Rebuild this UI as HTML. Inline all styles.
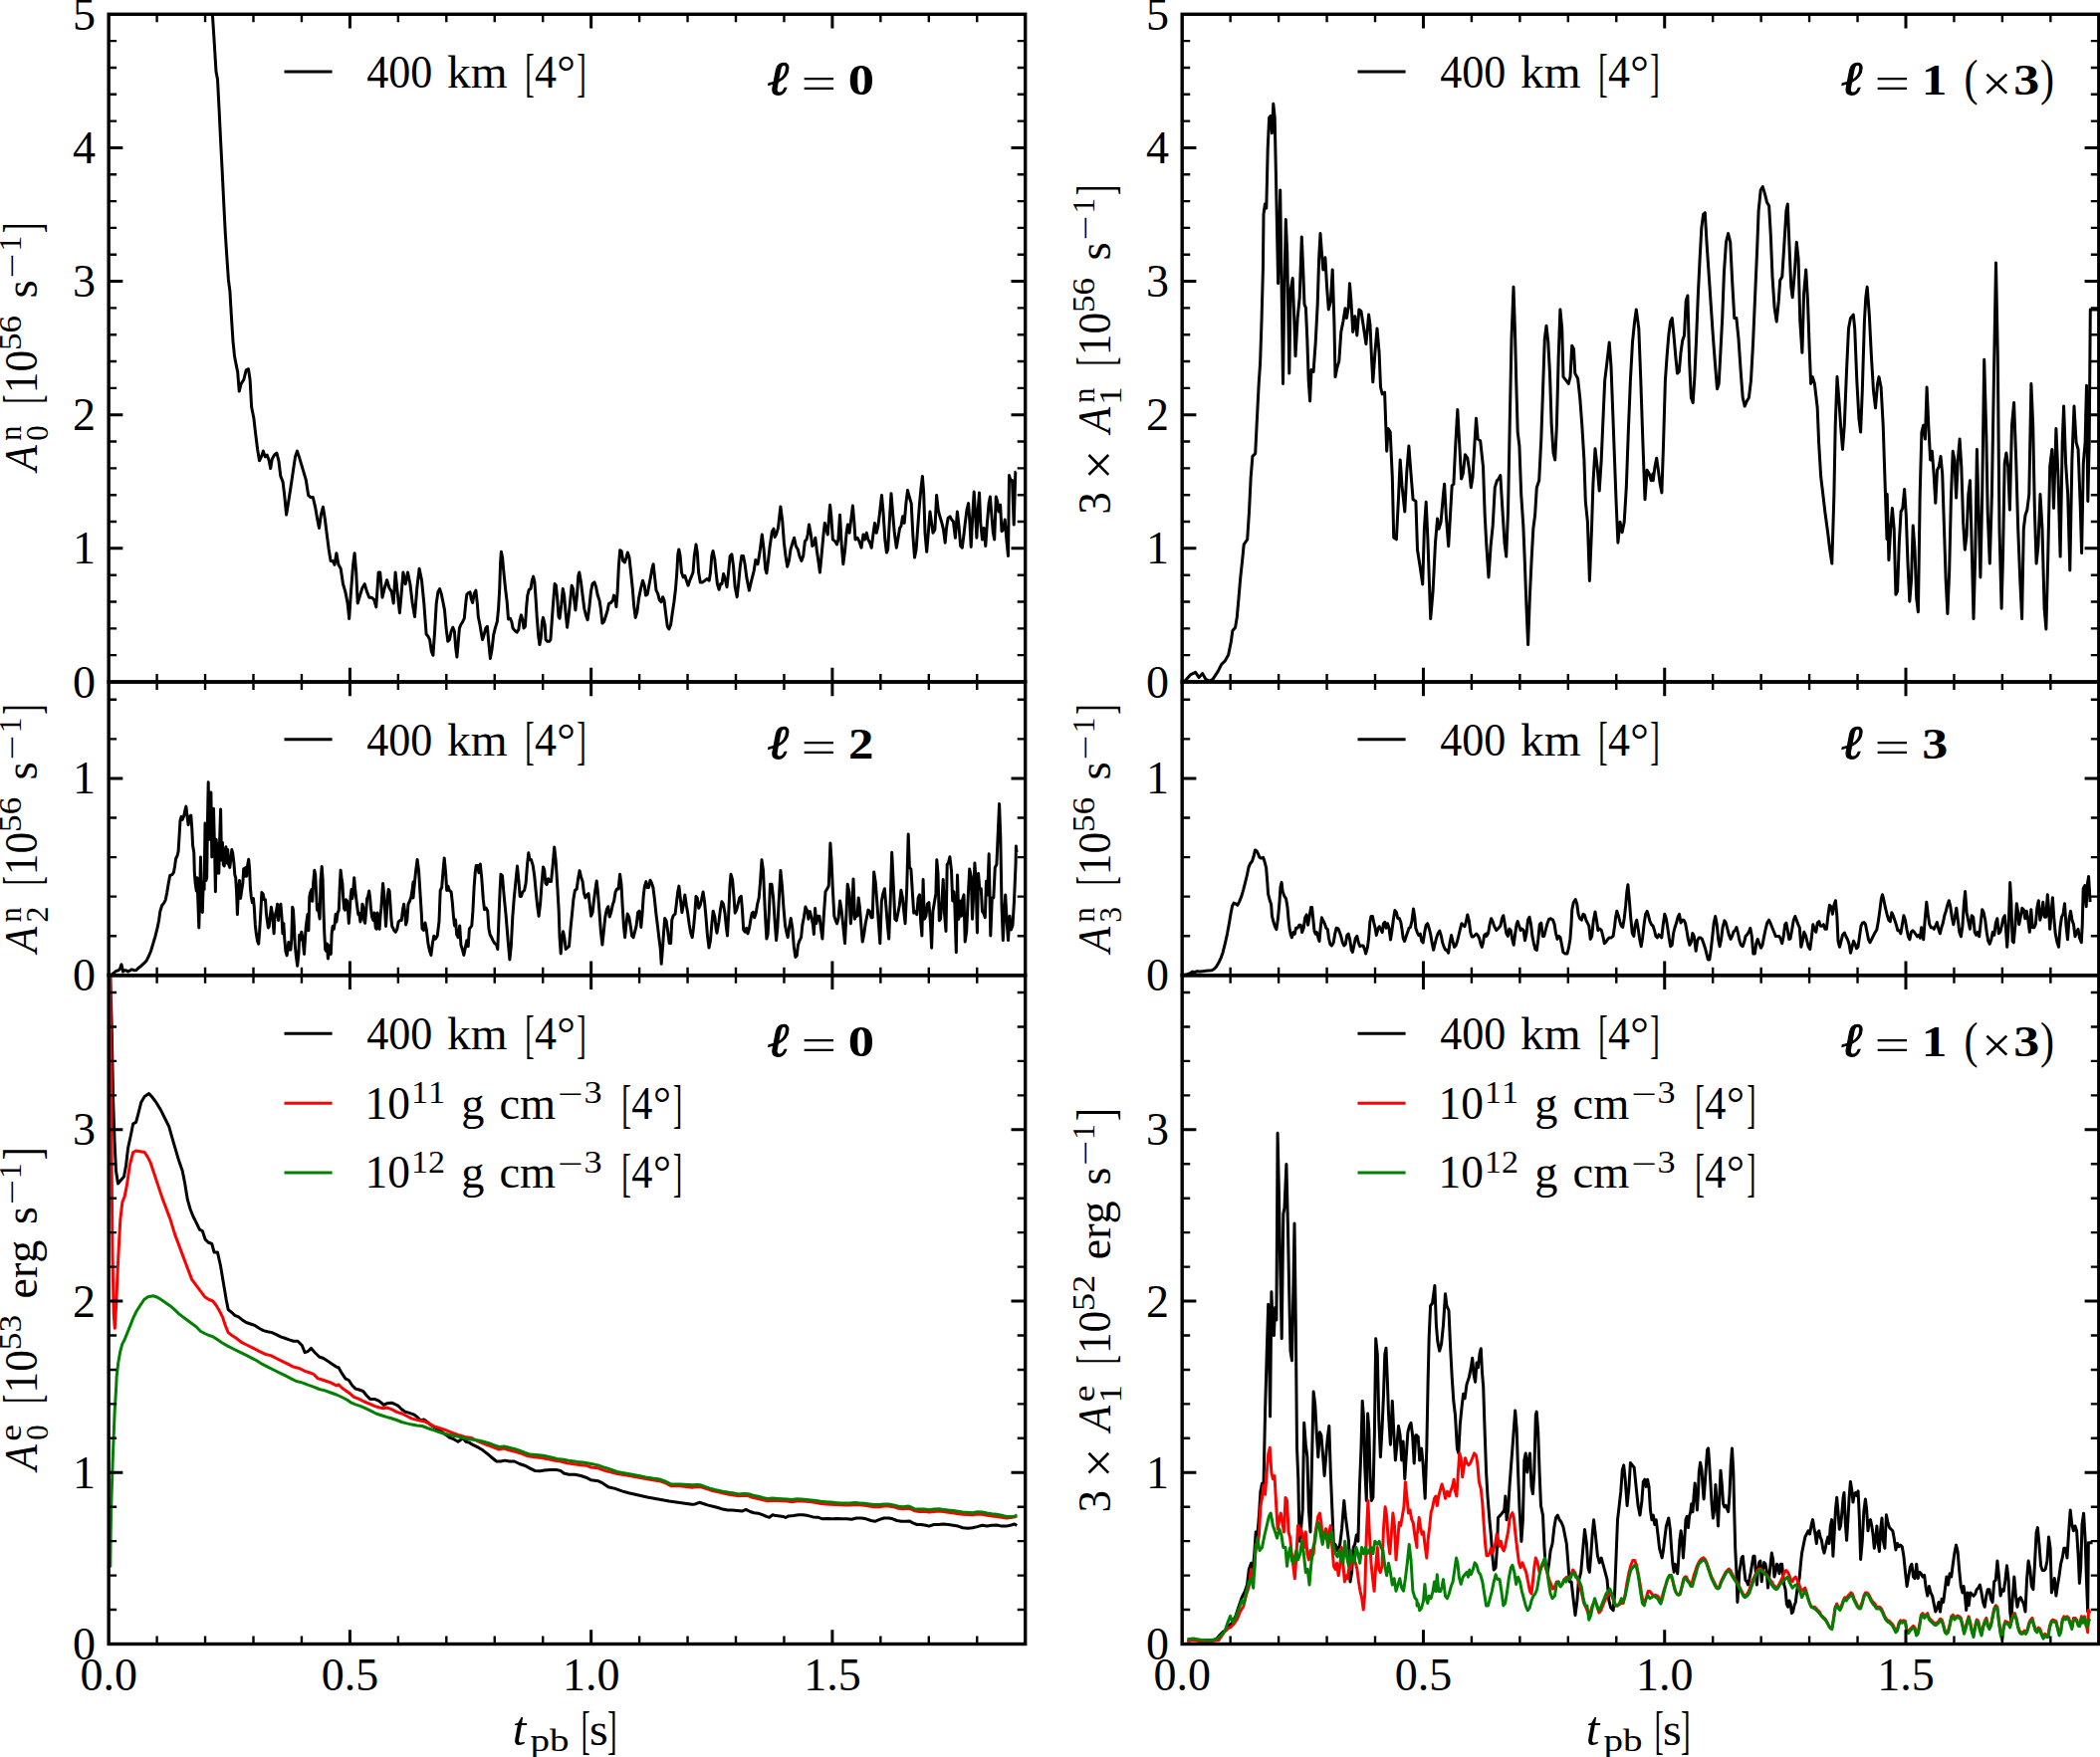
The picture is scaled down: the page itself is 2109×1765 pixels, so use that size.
<!DOCTYPE html>
<html><head><meta charset="utf-8"><style>
html,body{margin:0;padding:0;background:#fff;width:2109px;height:1765px;overflow:hidden}
svg{display:block}
.t{font-family:"Liberation Serif","DejaVu Serif",serif;font-size:46px;fill:#000;font-kerning:none}
</style></head><body>
<svg width="2109" height="1765" viewBox="0 0 2109 1765"><rect width="2109" height="1765" fill="#fff"/><clipPath id="cLT"><rect x="109.15" y="14.30" width="920.55" height="670.70"/></clipPath><polyline clip-path="url(#cLT)" points="213.1,10.0 215.1,41.0 217.0,71.9 218.5,79.7 220.1,110.6 221.6,141.6 223.2,172.6 224.7,203.5 226.3,234.5 227.8,257.7 229.4,280.9 230.9,292.5 232.5,319.6 234.0,342.8 235.6,358.3 237.1,366.1 238.7,373.8 240.2,393.1 242.2,385.4 244.8,381.5 247.2,371.9 249.5,370.7 251.1,381.5 252.6,408.6 254.9,420.2 256.2,431.9 258.6,451.2 260.5,462.8 262.4,458.9 264.4,453.1 266.3,458.9 268.2,457.0 270.2,462.8 271.7,470.6 273.3,460.9 275.6,457.0 277.9,455.1 279.9,462.8 281.8,478.3 284.1,484.1 285.7,497.6 287.6,517.0 289.5,505.4 291.9,489.9 294.2,474.4 296.5,458.9 298.4,453.1 300.4,458.9 302.7,466.7 305.0,474.4 307.3,482.2 309.7,497.6 312.0,499.6 314.3,499.6 316.6,509.3 318.6,520.9 320.5,530.5 322.4,517.0 324.4,509.3 326.3,520.9 328.2,536.4 330.2,551.8 332.1,563.4 334.1,563.4 336.0,567.3 337.9,555.7 339.9,567.3 342.2,571.2 344.5,586.7 346.8,594.4 349.1,606.0 350.7,621.5 352.2,598.3 354.6,567.3 356.1,555.7 357.7,575.0 359.2,606.0 361.5,598.3 363.9,590.5 366.2,586.7 368.5,594.4 370.8,600.2 373.1,600.2 375.5,602.1 377.8,609.9 380.1,575.0 381.7,575.0 384.0,600.2 386.3,590.5 388.6,582.8 390.9,590.5 393.3,594.4 395.2,606.0 397.1,575.0 399.5,598.3 401.4,615.7 403.3,594.4 404.9,575.0 407.2,586.7 409.5,575.0 411.9,586.7 414.2,606.0 416.5,619.6 418.8,590.5 421.1,571.2 423.5,582.8 425.8,606.0 428.1,637.0 430.0,639.3 431.6,642.6 433.3,654.2 434.9,658.3 436.6,634.4 438.2,606.3 439.9,594.8 441.6,591.5 443.2,596.4 444.9,604.7 446.5,612.9 448.1,631.1 449.8,644.3 451.4,642.6 453.1,634.4 454.8,630.2 456.4,634.4 457.7,650.9 458.9,660.0 460.0,647.6 461.4,631.1 462.7,627.8 464.3,625.3 466.3,621.2 467.9,604.7 468.8,597.2 470.4,595.6 472.1,594.8 473.2,601.4 474.6,605.5 476.2,596.4 477.9,593.1 479.5,608.0 480.3,619.5 482.0,627.8 483.1,634.4 484.5,642.6 486.1,637.7 487.8,631.1 489.4,629.4 490.7,644.3 492.4,661.6 494.0,652.5 495.7,637.7 497.3,631.1 499.3,624.5 500.6,611.3 501.8,589.8 502.6,565.0 503.4,554.3 504.6,560.1 505.9,575.0 507.6,591.5 509.2,604.7 510.5,622.0 512.5,621.2 513.8,624.5 515.1,631.1 517.1,633.5 519.1,635.2 520.8,632.7 522.1,622.8 523.4,617.9 524.9,622.8 526.0,631.1 527.4,629.4 528.7,609.6 529.8,598.1 531.3,592.3 533.0,591.5 534.3,583.2 535.6,579.1 536.9,584.9 538.1,601.4 539.2,619.5 540.6,637.7 541.9,647.6 543.2,641.0 544.5,624.5 545.5,620.4 547.2,627.8 548.1,642.6 549.6,644.3 551.6,644.3 552.9,642.6 554.1,626.1 555.4,608.0 557.1,586.5 558.4,588.2 559.7,601.4 561.0,619.5 562.0,621.2 563.7,608.0 565.3,591.5 566.6,598.1 568.0,614.6 569.6,630.2 571.2,617.9 572.9,601.4 574.2,588.2 575.5,591.5 576.9,604.7 577.9,612.9 579.5,598.1 580.8,578.3 581.8,575.0 583.5,584.9 585.1,598.1 586.8,611.3 588.4,617.9 590.1,622.8 591.7,611.3 593.4,594.8 595.0,586.5 597.0,584.9 598.6,589.8 600.3,598.1 602.0,603.0 603.3,611.3 604.9,626.1 606.6,624.5 608.2,619.5 610.2,612.9 611.5,606.3 613.5,605.5 615.5,603.0 616.5,598.1 617.8,601.4 618.9,609.6 620.1,594.8 621.4,568.4 622.7,552.7 624.1,553.5 625.7,563.4 627.4,565.0 629.0,560.1 630.3,555.1 632.0,560.1 633.6,575.0 635.3,591.5 636.6,608.0 638.2,620.4 639.9,614.6 641.5,601.4 643.5,591.5 645.5,583.2 647.2,588.2 648.5,598.1 650.1,597.2 651.8,588.2 653.4,579.9 654.8,571.7 656.1,566.7 657.4,578.3 659.0,593.1 660.7,596.4 662.3,603.0 664.0,604.7 665.6,599.7 667.0,603.0 668.6,616.2 670.3,629.4 671.9,631.9 673.6,627.8 675.2,616.2 676.9,604.7 678.5,591.5 679.8,575.0 680.8,556.8 681.8,551.9 683.1,558.5 684.5,575.0 686.1,579.9 687.8,578.3 689.4,583.2 691.1,588.2 692.7,583.2 694.4,579.1 696.0,575.0 697.3,558.5 699.0,546.9 700.3,555.1 701.6,575.0 703.3,584.9 705.6,584.9 707.9,583.2 709.9,581.6 712.2,583.2 713.5,575.0 714.8,558.5 716.1,553.5 717.8,561.8 719.1,575.0 720.4,586.5 722.1,592.3 723.7,586.5 725.0,586.5 726.6,576.6 728.3,581.6 730.0,589.8 731.6,575.0 733.2,558.5 734.9,556.8 736.5,568.4 738.2,589.8 740.2,599.7 741.5,588.2 743.2,570.0 744.8,558.5 746.5,558.5 748.1,566.7 749.8,579.9 752.4,593.1 754.7,583.2 757.2,573.3 758.8,562.6 761.0,566.7 763.0,555.1 765.3,537.0 767.1,551.9 768.7,571.7 769.9,575.8 771.5,563.4 773.2,548.5 775.4,533.7 777.0,531.2 778.1,539.5 779.5,537.0 781.5,530.4 783.9,508.9 785.8,523.8 787.4,545.2 789.0,558.5 790.7,569.2 792.4,563.4 794.0,551.9 796.0,545.2 797.6,540.3 799.3,548.5 801.3,551.9 802.9,558.5 804.9,563.4 806.7,558.5 808.4,543.6 810.0,542.0 811.2,537.0 812.5,527.1 814.1,535.3 815.8,548.5 817.4,546.9 818.8,540.3 820.4,553.5 822.1,565.0 823.4,575.0 825.0,558.5 827.0,537.0 828.3,525.4 830.0,532.0 831.3,537.0 832.6,518.8 833.6,507.3 834.8,518.8 836.4,542.0 838.6,543.6 840.5,546.9 841.9,542.0 843.5,517.2 845.2,546.9 846.8,566.7 848.5,553.5 850.1,535.3 851.4,527.1 853.1,535.3 854.7,522.1 856.4,508.1 857.9,525.4 859.0,542.0 861.2,540.3 862.8,543.6 865.0,550.2 867.0,537.0 868.6,542.0 870.3,535.3 871.9,542.0 873.6,545.2 875.2,550.2 876.9,537.0 878.5,525.4 880.2,535.3 881.8,528.7 883.5,515.5 885.5,497.4 887.1,515.5 888.8,542.0 890.4,555.1 891.7,551.9 893.4,522.1 895.0,495.7 896.7,517.2 898.3,535.3 900.3,550.2 902.0,540.3 903.6,530.4 904.9,528.7 906.6,518.8 908.2,525.4 909.9,505.6 911.5,492.4 913.2,499.0 915.2,505.6 916.8,537.0 918.5,560.1 920.1,551.9 921.8,528.7 923.4,507.3 925.1,489.1 926.4,478.4 927.7,495.7 929.0,535.3 930.7,554.3 932.3,535.3 934.0,513.9 935.6,525.4 937.0,535.3 938.9,532.0 940.6,497.4 942.2,512.2 943.9,518.8 945.9,525.4 947.5,532.0 949.2,545.2 950.5,530.4 952.1,520.5 954.1,518.8 955.8,522.1 957.4,523.8 959.4,540.3 961.4,513.9 963.0,528.7 964.7,548.5 966.3,550.2 968.0,537.0 969.3,525.4 971.0,512.2 972.6,505.6 973.9,523.8 975.2,549.4 976.9,515.5 978.2,494.1 979.5,515.5 980.9,540.3 982.2,512.2 983.5,494.9 984.8,525.4 986.5,542.0 988.1,530.4 989.8,548.5 991.4,525.4 993.1,505.6 994.4,499.0 995.7,515.5 997.4,535.3 998.7,542.0 1000.3,499.0 1001.7,504.0 1003.0,513.9 1004.6,507.3 1006.0,533.7 1007.6,532.0 1009.2,522.1 1010.9,542.0 1012.5,558.5 1013.5,477.6 1014.9,482.5 1016.5,482.5 1018.2,527.1 1019.8,474.3 1020.5,474.3" fill="none" stroke="#000" stroke-width="3" stroke-linejoin="round" stroke-linecap="butt"/><clipPath id="cRT"><rect x="1187.20" y="14.30" width="920.60" height="670.70"/></clipPath><polyline clip-path="url(#cRT)" points="1188.5,685.8 1195.4,677.9 1200.6,675.4 1204.1,680.6 1207.6,676.5 1211.0,682.4 1214.5,684.1 1218.0,682.4 1223.2,674.4 1226.7,667.4 1230.2,664.0 1233.6,658.1 1236.4,644.2 1237.8,633.8 1240.6,630.3 1242.3,619.9 1244.0,600.8 1245.8,579.9 1247.5,564.3 1249.2,547.0 1252.7,541.8 1254.5,514.0 1256.2,479.3 1257.9,458.4 1260.7,455.6 1262.1,427.2 1264.2,385.5 1265.6,364.7 1267.0,323.0 1268.4,270.9 1269.0,215.4 1270.4,205.0 1271.8,209.2 1273.2,149.4 1274.6,118.2 1276.0,116.5 1277.4,133.8 1278.8,104.3 1280.2,118.2 1281.6,184.2 1283.6,284.8 1285.7,191.1 1287.1,288.3 1288.5,385.5 1289.9,288.3 1291.3,220.6 1292.7,253.6 1294.8,375.1 1296.1,291.8 1298.2,279.6 1299.6,316.1 1301.0,357.8 1303.1,319.6 1305.2,298.7 1307.3,238.0 1308.7,270.9 1310.0,305.7 1311.4,309.1 1312.8,340.4 1314.2,382.1 1315.6,402.9 1317.0,371.6 1319.1,373.4 1321.2,343.9 1323.2,305.7 1324.6,260.5 1326.0,234.5 1327.4,253.6 1328.8,270.9 1330.9,258.8 1332.6,288.3 1334.3,310.9 1336.4,302.2 1338.2,270.9 1339.9,323.0 1341.0,378.6 1342.7,369.9 1344.8,362.9 1346.8,333.4 1348.9,323.0 1351.0,309.8 1352.4,319.6 1354.2,309.1 1355.5,284.8 1356.9,302.2 1358.7,333.4 1360.8,317.8 1362.8,336.9 1364.9,310.9 1367.0,312.6 1369.1,326.5 1371.9,345.6 1374.6,316.1 1376.0,326.5 1377.4,357.8 1378.8,383.8 1380.9,354.3 1383.0,330.0 1385.1,354.3 1386.5,389.0 1388.2,395.9 1390.6,394.2 1392.7,453.2 1394.1,430.6 1396.2,434.1 1398.3,479.3 1399.7,540.0 1402.4,541.8 1404.5,500.1 1406.2,461.9 1408.0,487.9 1410.8,514.0 1412.8,474.1 1414.9,448.0 1417.0,475.8 1419.1,501.8 1421.9,503.6 1423.5,552.2 1426.2,569.5 1428.7,586.9 1430.4,531.3 1432.2,504.3 1433.9,541.8 1436.7,621.6 1439.1,593.8 1441.5,545.2 1443.6,520.9 1445.0,531.3 1447.1,524.4 1449.5,496.6 1450.6,486.2 1452.3,517.5 1454.7,548.7 1456.5,517.5 1458.2,487.9 1459.9,486.2 1461.7,448.0 1463.8,411.6 1465.8,448.0 1467.6,481.0 1469.3,475.8 1471.4,456.7 1473.8,460.2 1475.6,472.3 1477.3,489.7 1479.0,479.3 1480.8,448.0 1482.5,420.2 1484.2,441.1 1486.7,442.8 1489.5,468.8 1491.2,517.5 1492.9,548.7 1495.0,579.9 1497.1,548.7 1499.2,527.9 1501.3,489.7 1503.4,482.7 1505.1,481.0 1506.8,477.5 1508.6,507.0 1511.0,545.2 1512.7,559.1 1514.5,514.0 1516.2,427.2 1518.0,340.4 1520.0,288.3 1521.4,330.0 1522.8,385.5 1524.2,434.1 1525.9,448.0 1527.7,496.6 1529.8,527.9 1531.1,559.1 1532.9,607.7 1534.6,647.6 1536.3,600.8 1538.1,562.6 1539.8,531.3 1541.6,517.5 1543.3,489.7 1545.7,482.7 1547.8,441.1 1549.5,392.5 1551.3,340.4 1553.0,327.2 1554.8,343.9 1556.5,375.1 1558.2,427.2 1560.0,455.0 1561.7,461.9 1563.4,427.2 1565.2,357.8 1566.9,310.9 1568.7,330.0 1570.0,378.6 1572.8,382.1 1575.2,385.5 1577.0,378.6 1578.7,347.3 1580.5,350.8 1581.8,375.1 1584.6,380.3 1586.7,399.4 1588.8,427.2 1590.9,461.9 1592.3,503.6 1594.4,524.4 1596.4,583.4 1598.5,531.3 1599.9,486.2 1602.0,450.8 1604.1,468.8 1606.2,493.1 1608.2,461.9 1610.3,413.3 1611.7,382.1 1613.8,364.7 1616.2,343.9 1618.0,368.2 1619.7,413.3 1621.5,461.9 1623.2,507.0 1624.9,545.2 1627.0,524.4 1629.1,534.8 1631.2,524.4 1633.3,489.7 1635.3,434.1 1637.4,382.1 1639.5,343.9 1641.6,323.0 1643.3,310.9 1645.8,330.0 1647.8,382.1 1649.9,444.5 1652.0,501.8 1654.1,472.3 1656.2,475.8 1658.3,482.7 1660.0,475.8 1660.2,482.7 1662.0,468.8 1663.7,460.2 1665.4,472.3 1667.2,486.2 1668.9,494.9 1670.6,444.5 1672.4,382.1 1674.1,357.8 1675.8,336.9 1677.6,323.0 1679.3,319.6 1681.0,336.9 1682.8,357.8 1684.5,375.1 1686.3,373.4 1688.0,354.3 1689.7,342.1 1691.5,336.9 1693.2,302.2 1694.9,297.0 1696.7,364.7 1698.4,399.4 1700.2,404.6 1701.9,378.6 1703.6,340.4 1705.4,295.2 1707.1,260.5 1708.8,229.3 1710.6,215.4 1712.3,213.7 1714.0,243.2 1716.1,274.4 1718.2,305.7 1720.3,336.9 1722.4,364.7 1724.5,390.7 1726.2,385.5 1727.9,354.3 1729.7,319.6 1731.4,274.4 1733.5,243.2 1735.6,234.5 1737.7,243.2 1739.8,284.8 1741.8,319.6 1743.9,319.6 1746.0,340.4 1748.1,371.6 1750.2,399.4 1752.2,408.1 1754.3,402.9 1756.4,399.4 1758.5,382.1 1760.6,343.9 1762.7,295.2 1764.8,246.7 1766.1,211.9 1768.2,191.1 1770.3,187.6 1772.4,194.6 1774.5,203.2 1776.6,206.7 1778.3,236.2 1780.0,277.9 1782.1,309.1 1784.2,323.0 1786.3,302.2 1787.7,281.4 1789.8,277.9 1791.8,246.7 1793.9,211.9 1795.3,205.0 1796.7,239.7 1798.8,288.3 1800.2,298.7 1802.3,274.4 1804.3,243.2 1806.1,260.5 1807.8,323.0 1809.9,354.3 1811.6,295.2 1813.7,270.9 1815.5,302.2 1817.2,350.8 1818.6,385.5 1820.3,378.6 1822.4,385.5 1825.2,409.8 1826.6,444.5 1828.7,479.3 1830.8,496.6 1832.8,514.0 1835.6,534.8 1837.7,552.2 1839.8,566.1 1841.9,496.6 1843.2,427.2 1845.0,378.6 1846.7,399.4 1848.8,430.6 1850.5,451.5 1852.3,427.2 1854.4,375.1 1856.5,330.0 1858.5,319.6 1861.3,316.1 1862.7,330.0 1864.8,382.1 1866.9,420.2 1868.6,434.1 1870.3,392.5 1872.4,323.0 1873.8,298.7 1875.2,288.3 1877.3,316.1 1879.4,357.8 1881.5,392.5 1883.5,409.8 1885.6,385.5 1887.0,378.6 1889.1,389.0 1891.2,427.2 1892.9,479.3 1895.0,541.8 1895.2,496.6 1896.9,562.6 1898.7,531.3 1900.4,510.5 1902.2,531.3 1903.9,597.3 1905.6,593.8 1907.3,545.2 1909.1,514.0 1910.8,510.5 1912.6,491.4 1914.3,517.5 1916.0,566.1 1917.8,604.2 1919.5,583.4 1921.2,527.9 1923.0,552.2 1924.7,600.8 1926.4,614.7 1928.2,496.6 1929.9,434.1 1931.7,427.2 1933.4,441.1 1935.1,389.0 1936.8,427.2 1938.6,461.9 1940.3,453.2 1942.1,475.8 1943.8,505.3 1945.5,472.3 1947.3,468.8 1949.0,458.4 1950.7,475.8 1952.5,531.3 1954.2,583.4 1955.9,616.4 1957.7,573.0 1959.4,500.1 1961.2,453.2 1962.9,461.9 1964.6,500.1 1966.3,461.9 1968.1,441.1 1969.8,468.8 1971.6,524.4 1973.3,552.2 1975.0,538.3 1976.8,496.6 1978.5,482.7 1980.2,548.7 1982.0,621.6 1983.7,559.1 1985.4,451.5 1987.2,517.5 1988.9,579.9 1990.7,496.6 1992.7,361.2 1994.8,437.6 1996.2,514.0 1998.3,566.1 2000.4,496.6 2002.8,357.8 2004.5,264.0 2006.3,357.8 2008.0,531.3 2010.1,611.2 2011.5,559.1 2013.2,465.4 2014.9,455.0 2016.7,468.8 2018.4,512.2 2020.5,427.2 2022.6,404.6 2024.7,461.9 2026.7,531.3 2028.8,583.4 2030.6,621.6 2032.3,531.3 2034.0,517.5 2035.8,512.2 2037.8,496.6 2039.9,385.5 2041.7,427.2 2043.4,514.0 2045.1,566.1 2046.9,548.7 2049.0,496.6 2051.0,531.3 2053.1,611.2 2054.9,632.0 2056.6,566.1 2058.7,468.8 2060.8,451.5 2062.5,510.5 2064.9,430.6 2067.0,479.3 2069.1,559.1 2071.2,444.5 2072.6,408.1 2074.6,465.4 2076.7,496.6 2078.8,573.0 2080.9,461.9 2083.0,408.1 2085.1,444.5 2087.1,451.5 2089.2,507.0 2090.6,555.6 2092.3,465.4 2094.1,444.5 2095.5,387.3 2096.8,503.6 2098.2,444.5 2099.3,310.9 2106.9,310.9" fill="none" stroke="#000" stroke-width="3" stroke-linejoin="round" stroke-linecap="butt"/><clipPath id="cLM"><rect x="109.15" y="685.00" width="920.55" height="294.80"/></clipPath><polyline clip-path="url(#cLM)" points="110.9,979.8 113.9,977.6 116.8,975.4 119.0,974.7 120.5,973.2 122.0,968.8 123.5,976.1 124.9,974.7 126.4,974.7 128.6,976.1 130.8,974.7 132.3,973.9 134.5,974.7 136.7,974.7 138.9,972.5 141.9,970.2 144.9,967.3 147.1,965.1 149.3,960.6 151.5,955.5 153.7,948.1 155.9,940.7 158.1,931.9 159.6,924.5 160.8,915.6 162.6,909.7 164.8,906.8 166.3,903.8 167.7,896.5 169.2,887.6 170.7,879.5 172.9,878.7 174.4,876.5 175.6,869.9 176.6,862.5 178.1,859.5 179.1,855.1 180.3,835.9 181.0,824.1 182.1,820.4 183.2,823.4 184.7,819.7 185.9,813.8 186.9,810.1 188.0,819.7 189.1,828.5 190.3,820.4 191.8,819.0 192.8,833.0 193.6,849.2 194.8,856.6 195.3,875.8 196.2,887.6 197.3,895.0 198.0,881.7 198.9,906.8 199.8,931.9 200.7,899.4 201.5,861.0 202.4,900.9 203.3,916.4 204.2,886.1 205.1,893.5 206.0,827.1 206.9,884.6 207.7,881.7 208.3,834.5 209.2,785.8 210.1,843.3 211.0,822.6 211.9,796.1 212.8,861.0 213.7,840.4 214.5,812.3 215.7,859.5 216.4,895.7 217.2,843.3 218.1,877.3 219.0,847.7 219.8,877.3 220.7,841.8 221.6,813.1 222.5,864.0 223.4,846.3 224.3,868.4 225.2,869.9 226.1,856.6 226.9,850.7 227.8,866.9 228.7,853.6 229.7,868.4 230.8,871.4 231.9,862.5 232.8,853.6 233.7,856.6 234.9,866.9 235.8,878.7 236.7,881.7 237.6,896.5 238.4,918.6 239.3,896.5 240.5,884.6 241.6,902.4 242.6,895.0 243.8,887.6 244.7,872.8 245.5,880.2 246.7,871.4 247.6,880.2 248.5,869.9 249.7,863.2 250.6,872.8 251.4,892.0 252.3,900.9 253.4,906.8 254.4,902.4 255.3,911.2 256.3,928.9 257.3,937.8 258.5,945.1 259.7,948.1 260.7,934.8 261.8,917.1 262.9,896.5 264.1,897.9 265.3,903.8 266.5,903.8 267.4,917.1 268.3,924.5 269.4,931.9 270.3,930.4 271.5,918.6 272.4,911.2 273.3,917.1 274.2,926.0 275.1,937.8 275.9,923.0 276.8,917.1 277.7,914.2 278.6,908.2 279.5,924.5 280.7,912.7 281.9,908.2 283.0,921.5 283.9,937.8 284.8,927.4 285.8,943.7 286.9,955.5 288.1,959.9 288.9,954.0 289.8,946.6 290.7,954.0 291.9,954.0 292.8,943.7 293.7,911.2 294.5,914.2 295.4,930.4 296.3,949.6 297.5,961.4 298.7,970.2 299.9,958.4 300.7,939.2 301.9,943.7 302.8,936.3 303.7,940.7 304.6,949.6 305.5,958.4 306.4,943.7 307.2,931.9 308.1,924.5 309.0,918.6 309.9,934.8 310.8,900.9 311.7,896.5 312.9,893.5 313.7,905.3 314.6,887.6 315.8,874.3 316.7,878.7 317.6,896.5 318.5,914.2 319.3,908.2 320.2,917.1 321.1,923.0 322.0,884.6 323.2,870.6 324.1,883.2 324.9,912.7 325.8,937.8 326.7,954.0 327.6,955.5 328.5,948.1 329.4,962.9 330.3,957.0 331.4,949.6 332.3,958.4 333.2,937.8 334.1,930.4 335.3,933.3 336.2,927.4 337.1,918.6 337.9,926.0 339.1,917.1 340.3,914.2 341.2,892.0 342.1,874.3 343.0,881.7 343.9,887.6 344.7,902.4 345.6,912.7 346.5,914.2 347.4,903.8 348.6,905.3 349.5,914.2 350.3,927.4 351.2,915.6 352.1,900.9 353.0,893.5 353.9,902.4 354.8,893.5 355.7,881.7 356.5,892.0 357.7,902.4 358.6,909.7 359.8,918.6 360.7,917.1 361.9,926.0 363.0,921.5 363.9,908.2 364.8,911.2 365.7,924.5 366.6,927.4 367.8,914.2 368.6,902.4 369.5,900.9 370.7,895.0 371.6,902.4 372.5,912.7 373.7,921.5 374.9,924.5 376.0,917.1 377.2,931.9 378.1,933.3 379.0,917.1 380.2,924.5 381.1,933.3 381.9,921.5 382.8,912.7 383.7,899.4 384.6,887.6 385.5,896.5 386.7,917.1 387.5,930.4 388.4,917.1 389.3,899.4 390.2,893.5 391.1,895.0 392.0,908.2 392.9,923.0 393.7,930.4 394.6,931.9 395.8,934.8 397.3,936.3 398.8,933.3 400.2,926.0 401.7,924.5 403.2,924.5 404.7,912.7 405.6,908.2 406.7,917.1 407.6,928.9 408.8,924.5 410.0,908.2 411.5,905.3 412.9,900.9 414.1,893.5 415.0,886.1 415.0,901.9 415.9,891.5 417.4,876.8 419.1,863.5 420.6,875.3 421.8,894.5 423.3,918.1 424.0,932.9 425.5,934.4 427.0,927.0 428.4,934.4 429.9,947.6 431.4,955.0 432.9,959.5 434.4,947.6 435.8,940.3 437.3,943.2 439.2,940.3 441.0,925.5 442.2,894.5 443.7,891.5 445.1,873.8 446.2,862.0 447.6,876.8 448.7,894.5 449.9,890.1 451.3,894.5 453.1,896.0 454.3,906.3 455.5,921.1 456.5,929.9 457.5,924.0 458.7,938.8 460.2,941.7 461.7,929.9 462.9,949.1 464.3,953.5 465.8,959.5 467.3,952.1 468.8,944.7 470.2,950.6 471.4,932.9 472.7,931.4 473.8,929.9 474.9,915.2 476.1,891.5 477.2,876.8 478.2,869.4 479.7,869.4 480.9,876.8 482.3,867.9 483.8,882.7 485.3,903.4 486.5,913.7 488.2,912.2 489.7,915.2 490.9,932.9 492.1,938.8 493.6,941.7 495.0,944.7 496.8,947.6 498.6,949.1 499.8,953.5 500.9,924.0 502.1,894.5 503.0,878.2 504.5,879.7 505.7,894.5 506.8,906.3 508.0,918.1 509.2,932.9 510.4,947.6 511.9,963.9 513.3,950.6 514.8,921.1 516.3,901.9 517.8,887.1 519.5,870.1 521.0,885.6 522.2,900.4 523.4,900.4 524.9,896.0 526.6,894.5 528.1,887.1 529.6,867.9 530.8,856.8 531.9,863.5 533.4,863.5 535.2,869.4 536.7,879.7 538.1,894.5 539.6,909.3 541.1,920.3 542.6,907.8 544.0,888.6 545.5,870.9 546.7,873.8 547.9,887.1 549.1,888.6 550.5,882.7 552.0,885.6 553.5,885.6 555.0,870.9 556.7,850.9 558.2,865.0 559.7,888.6 561.2,915.2 562.0,940.3 563.2,958.0 564.4,941.7 565.6,935.8 566.8,941.7 568.2,953.5 569.7,952.1 571.5,950.6 573.0,932.9 574.5,918.1 575.9,903.4 577.4,894.5 579.2,893.0 580.6,882.7 582.1,874.6 583.6,881.2 585.1,885.6 586.5,897.5 588.0,901.9 589.5,898.9 591.0,897.5 592.5,910.7 593.6,920.3 595.1,916.6 596.6,903.4 597.8,894.5 599.2,884.9 600.4,896.0 601.9,915.2 603.4,935.8 604.9,949.1 606.3,935.8 607.8,921.1 609.3,913.7 610.8,910.7 612.2,921.1 613.7,916.6 615.2,909.3 616.7,904.8 618.1,896.0 619.6,893.0 621.1,893.0 622.6,878.2 624.0,888.6 625.2,910.7 626.4,929.9 627.6,941.7 628.8,929.9 630.2,918.1 631.7,921.1 633.2,929.9 634.7,940.3 636.1,941.7 637.6,935.8 639.1,929.9 640.6,916.6 642.1,915.2 643.8,931.4 645.0,918.1 646.2,900.4 647.4,890.1 648.9,885.6 650.0,891.5 651.5,891.5 653.0,884.2 654.5,887.1 655.9,891.5 657.4,903.4 658.9,918.1 660.4,929.9 661.8,941.7 663.3,953.5 664.2,968.3 665.4,953.5 666.6,935.8 667.7,922.5 669.2,925.5 670.7,935.8 672.2,947.6 673.6,947.6 674.8,924.0 676.3,919.6 678.1,918.1 679.5,906.3 680.7,896.0 681.9,890.1 683.4,903.4 684.9,916.6 686.3,909.3 687.8,898.9 689.3,909.3 690.8,918.1 692.2,928.5 693.7,937.3 695.2,941.7 696.4,932.9 697.9,916.6 699.0,900.4 700.2,901.9 701.7,912.2 703.2,909.3 704.6,903.4 706.1,896.0 707.6,906.3 709.1,922.5 710.5,940.3 712.0,952.1 713.5,944.7 714.7,929.9 716.2,915.2 717.9,921.1 719.1,932.9 720.0,937.3 720.3,935.5 721.9,926.3 723.4,914.1 724.9,905.7 726.4,908.0 728.0,917.2 729.5,932.4 730.5,940.0 731.8,917.2 733.0,889.7 734.0,878.3 735.6,883.6 737.1,901.9 738.2,917.2 739.7,914.1 741.2,908.0 742.7,901.9 744.3,900.4 745.5,914.1 746.7,933.9 748.2,936.2 749.7,932.4 751.0,937.8 752.5,932.4 754.0,923.3 755.2,917.2 756.5,916.4 757.7,921.8 759.2,917.2 760.7,908.0 762.2,901.9 763.5,886.7 765.0,863.8 766.5,874.5 767.7,901.9 768.9,926.3 769.9,943.1 771.1,938.5 772.3,917.2 773.5,888.2 775.0,888.2 776.6,901.9 778.1,924.8 779.6,944.6 780.8,932.4 782.4,901.9 783.9,874.5 785.4,889.7 786.9,911.1 788.5,929.4 790.0,937.0 791.2,941.6 792.7,930.9 794.2,922.5 795.8,932.4 797.3,950.7 798.8,961.4 800.3,959.9 801.5,949.2 803.1,944.6 804.6,941.6 805.8,929.4 807.3,921.8 808.9,911.1 810.4,914.1 811.9,923.3 813.4,915.6 815.0,921.8 816.5,929.4 817.4,938.5 818.6,912.6 819.8,927.8 821.4,920.2 822.9,920.2 824.4,932.4 825.9,943.1 827.5,917.2 829.0,895.8 830.8,892.8 832.3,889.7 833.9,847.1 835.1,865.4 836.3,892.8 837.8,920.2 839.3,924.8 840.6,927.8 842.1,921.8 843.6,905.0 845.1,914.1 846.7,929.4 848.5,947.7 850.0,917.2 851.2,888.2 852.8,895.8 854.3,927.8 855.5,917.2 857.0,882.9 858.5,923.3 859.8,917.2 861.0,920.2 862.2,901.9 863.4,911.1 864.6,926.3 866.2,946.1 867.7,938.5 869.2,927.8 870.4,921.8 872.0,914.1 873.5,915.6 875.0,921.8 876.2,921.8 877.7,876.0 879.3,886.7 880.8,906.5 882.3,926.3 883.8,947.7 885.4,905.0 886.9,897.4 888.4,892.8 889.9,911.1 891.5,930.9 892.7,943.1 894.2,905.0 895.7,856.2 897.2,886.7 898.8,923.3 900.3,924.8 901.8,917.2 903.3,909.5 904.9,894.3 906.4,901.9 907.9,917.2 909.1,927.8 910.7,892.8 912.2,837.9 913.4,871.5 914.9,873.0 916.5,898.9 917.7,917.2 919.2,915.6 920.7,918.7 922.2,901.9 923.5,898.9 924.7,926.3 925.9,940.0 927.1,883.6 928.3,923.3 929.9,920.2 931.4,908.0 932.9,906.5 934.4,926.3 935.6,952.2 936.9,915.6 938.4,906.5 939.9,897.4 940.8,863.8 942.0,877.5 943.3,924.8 944.5,923.3 946.0,905.0 947.2,883.6 948.5,917.2 950.0,935.5 951.2,868.4 952.4,866.9 953.9,860.8 955.5,874.5 956.7,905.0 957.9,895.8 958.8,908.0 960.3,956.8 961.5,879.1 962.8,923.3 964.3,905.0 965.5,920.2 966.7,903.5 968.0,898.9 969.2,946.1 970.7,935.5 972.2,901.9 973.7,873.0 975.3,880.6 976.5,923.3 977.7,898.9 978.9,866.9 980.1,883.6 981.4,937.0 982.6,877.5 983.8,892.8 985.3,892.8 986.5,915.6 987.8,917.2 989.3,921.8 990.5,885.2 991.7,898.9 993.2,857.7 994.8,940.0 996.3,901.9 997.8,901.9 999.3,871.5 1000.9,868.4 1002.1,841.0 1003.6,807.4 1004.8,841.0 1006.0,909.5 1007.3,944.6 1008.5,917.2 1009.7,898.9 1011.2,926.3 1012.5,944.6 1014.0,920.2 1015.5,933.9 1017.0,929.4 1018.5,905.0 1020.1,866.9 1020.4,850.1 1021.0,856.2" fill="none" stroke="#000" stroke-width="3" stroke-linejoin="round" stroke-linecap="butt"/><clipPath id="cRM"><rect x="1187.20" y="685.00" width="920.60" height="294.80"/></clipPath><polyline clip-path="url(#cRM)" points="1188.2,979.4 1191.9,978.6 1194.8,977.9 1197.8,976.1 1200.0,976.7 1202.2,975.7 1205.1,976.1 1208.1,975.7 1211.0,975.3 1214.0,975.0 1217.0,974.7 1219.2,973.5 1221.4,971.3 1223.6,967.6 1225.8,963.2 1228.0,957.2 1230.2,948.4 1232.5,938.1 1234.4,927.7 1236.1,917.4 1237.6,910.0 1239.1,907.1 1240.9,907.8 1242.8,909.3 1244.7,905.6 1246.8,900.4 1248.7,893.8 1250.6,886.4 1252.4,879.0 1253.9,871.6 1255.3,868.0 1257.5,865.0 1259.0,860.6 1260.5,853.9 1262.0,854.7 1263.5,857.6 1264.9,861.3 1266.4,862.1 1268.6,861.3 1270.1,865.8 1271.6,871.6 1272.8,886.4 1273.6,898.2 1275.1,904.1 1276.6,908.5 1277.5,920.4 1279.0,926.3 1280.4,930.7 1281.9,933.6 1283.4,923.3 1284.9,907.1 1286.0,890.8 1287.1,886.4 1288.1,895.3 1289.6,899.7 1291.5,902.6 1293.0,911.5 1294.0,923.3 1295.2,933.6 1296.4,939.5 1297.4,941.8 1298.9,936.6 1300.4,938.1 1301.5,932.2 1303.3,932.2 1304.8,929.2 1306.3,929.2 1307.7,936.6 1309.2,932.2 1310.7,921.8 1312.2,918.9 1313.6,929.2 1315.1,920.4 1316.6,911.5 1317.6,911.5 1318.8,923.3 1320.0,935.1 1321.2,938.1 1322.5,936.6 1324.0,942.5 1325.0,945.5 1326.2,932.2 1327.4,921.8 1328.8,924.8 1330.3,927.7 1331.8,932.2 1333.3,933.6 1334.5,942.5 1335.9,948.4 1337.4,949.9 1339.2,946.9 1340.7,938.1 1342.1,932.2 1343.9,932.9 1345.4,936.6 1346.9,941.0 1348.3,946.9 1349.8,949.9 1351.3,948.4 1352.8,939.5 1354.2,938.1 1355.7,944.0 1357.2,954.3 1358.4,956.5 1359.8,949.9 1361.3,942.5 1362.8,940.3 1364.3,946.9 1365.8,950.6 1367.5,949.9 1369.0,949.9 1370.5,953.6 1371.7,958.0 1373.4,951.4 1374.6,942.5 1375.8,926.3 1377.0,920.4 1378.5,920.4 1379.6,926.3 1381.1,932.2 1382.3,939.5 1383.8,933.6 1385.2,930.7 1386.7,933.6 1388.2,936.6 1389.4,927.7 1390.8,926.3 1392.0,932.2 1393.5,927.7 1395.0,932.2 1396.5,944.0 1397.9,935.1 1399.4,923.3 1400.9,914.5 1402.4,916.7 1403.8,922.6 1405.3,922.6 1406.8,926.3 1408.0,933.6 1409.2,942.5 1410.6,945.5 1412.1,941.0 1413.6,936.6 1415.1,932.2 1416.5,931.4 1418.0,924.8 1419.5,913.0 1420.7,920.4 1421.8,932.2 1423.3,936.6 1424.8,939.5 1426.3,938.1 1427.8,945.5 1429.2,946.9 1430.7,936.6 1432.2,929.2 1433.7,927.7 1435.1,932.2 1436.6,938.1 1438.1,946.9 1439.6,954.3 1441.0,948.4 1442.5,942.5 1444.0,938.1 1445.8,935.1 1447.2,939.5 1448.7,946.9 1450.2,951.4 1451.7,954.3 1453.1,954.3 1454.6,957.2 1456.1,946.9 1457.6,939.5 1459.0,945.5 1460.5,951.4 1462.0,949.9 1463.5,945.5 1465.0,939.5 1466.4,933.6 1467.9,927.7 1469.4,929.2 1470.9,930.7 1472.3,926.3 1473.8,918.9 1475.3,924.8 1476.8,936.6 1478.2,941.0 1479.7,941.0 1481.2,939.5 1482.7,938.1 1484.1,939.5 1485.6,942.5 1487.1,948.4 1488.3,951.4 1489.5,946.9 1490.6,939.5 1492.1,938.1 1493.0,938.1 1493.0,940.4 1494.6,937.5 1496.1,928.6 1497.6,922.7 1499.1,925.6 1500.5,930.1 1502.8,934.5 1505.0,932.3 1506.9,930.1 1508.4,922.7 1509.8,919.7 1511.3,928.6 1512.8,937.5 1514.3,940.4 1515.8,933.0 1517.2,934.5 1518.7,943.4 1520.2,949.3 1521.7,937.5 1523.1,928.6 1524.2,925.6 1525.6,930.1 1527.1,934.5 1528.6,933.0 1530.1,934.5 1531.5,944.8 1533.0,937.5 1534.5,924.2 1536.0,921.2 1537.5,928.6 1538.9,940.4 1540.4,947.8 1541.9,953.7 1543.4,954.4 1544.8,943.4 1546.3,928.6 1547.8,927.1 1549.3,940.4 1550.7,940.4 1552.2,934.5 1553.7,928.6 1555.6,923.4 1557.4,922.7 1559.6,924.2 1561.1,928.6 1562.5,937.5 1564.0,943.4 1565.5,940.4 1567.0,941.9 1568.5,949.3 1569.9,956.6 1572.1,958.1 1573.9,958.1 1575.4,952.2 1576.9,943.4 1578.0,928.6 1578.8,913.8 1580.3,906.5 1582.2,903.5 1583.7,907.9 1585.1,918.3 1586.6,922.7 1588.4,924.2 1589.9,918.3 1591.3,919.0 1592.8,924.2 1594.3,927.1 1595.8,930.1 1597.2,943.4 1598.7,940.4 1600.2,925.6 1602.0,916.0 1603.4,924.2 1604.9,934.5 1606.7,933.0 1608.3,934.5 1609.8,940.4 1611.3,947.8 1612.7,946.3 1614.7,943.4 1616.4,941.9 1618.2,941.9 1620.1,940.4 1621.6,930.1 1622.6,921.2 1623.8,915.3 1625.3,919.7 1626.8,925.6 1628.2,930.1 1629.7,931.5 1631.2,922.7 1632.7,909.4 1633.8,896.1 1634.9,888.7 1636.4,905.0 1637.8,922.7 1639.3,937.5 1640.8,940.4 1642.3,928.6 1643.7,924.2 1645.2,933.0 1646.7,943.4 1648.2,950.7 1649.6,941.9 1651.1,928.6 1652.6,918.3 1654.1,915.3 1655.5,919.7 1657.0,925.6 1658.5,928.6 1660.0,930.1 1661.5,934.5 1662.9,940.4 1664.4,941.9 1665.9,938.9 1667.4,940.4 1668.8,941.9 1670.3,928.6 1671.8,918.3 1673.3,922.7 1674.7,931.5 1676.2,941.9 1677.7,950.7 1679.2,949.3 1680.6,937.5 1682.1,931.5 1683.6,927.1 1685.1,921.2 1686.5,918.3 1688.0,927.1 1689.5,924.2 1691.0,924.2 1692.5,927.1 1693.9,934.5 1695.4,943.4 1696.9,949.3 1698.4,946.3 1699.8,937.5 1701.3,940.4 1703.2,955.2 1704.7,944.8 1706.2,941.9 1707.7,941.9 1709.4,943.4 1710.9,947.8 1712.4,952.2 1713.9,958.1 1715.3,964.0 1716.8,964.0 1718.3,953.7 1719.8,940.4 1721.2,927.1 1722.7,920.5 1724.2,928.6 1725.7,943.4 1727.1,950.7 1728.6,943.4 1730.1,931.5 1731.9,924.9 1733.3,927.1 1734.8,933.0 1736.3,938.9 1738.1,943.4 1739.5,940.4 1741.0,936.0 1742.5,934.5 1744.0,931.5 1745.5,937.5 1746.9,944.8 1748.4,949.3 1750.2,950.7 1751.7,946.3 1753.1,940.4 1754.6,938.9 1756.4,936.0 1757.8,932.3 1759.3,940.4 1760.8,958.1 1762.3,958.1 1763.8,947.8 1765.2,943.4 1766.7,947.8 1768.5,952.2 1770.0,949.3 1771.4,941.9 1772.9,934.5 1774.7,927.1 1776.5,924.2 1777.9,927.1 1779.7,931.5 1781.5,936.0 1783.2,940.4 1785.0,940.4 1786.8,940.4 1788.3,943.4 1789.7,947.8 1791.2,940.4 1792.7,928.6 1793.9,927.1 1795.3,934.5 1796.8,943.4 1798.0,943.0 1799.8,933.3 1801.3,924.2 1802.8,920.5 1804.3,924.2 1805.8,928.7 1807.3,931.8 1808.8,951.3 1810.3,945.3 1811.8,936.3 1813.3,939.3 1814.8,945.3 1816.3,951.3 1817.8,953.6 1819.3,942.3 1820.8,928.7 1822.3,933.3 1823.8,936.3 1825.3,927.2 1826.9,925.7 1828.4,930.2 1829.9,930.2 1831.4,928.7 1832.9,933.3 1834.4,933.3 1835.9,919.7 1837.4,909.2 1838.9,910.7 1840.4,918.2 1841.9,909.2 1843.4,904.7 1844.9,921.2 1846.0,945.3 1847.5,951.3 1849.0,945.3 1850.5,939.3 1852.4,937.0 1853.9,940.8 1855.5,943.8 1857.0,948.3 1858.5,957.3 1860.0,951.3 1861.5,945.3 1863.0,948.3 1864.5,952.8 1866.0,951.3 1867.5,940.8 1869.0,930.2 1870.5,927.2 1872.0,926.5 1873.5,928.7 1875.0,936.3 1876.5,943.8 1878.0,946.8 1880.3,942.3 1882.5,937.8 1884.8,934.0 1886.3,925.7 1887.8,915.2 1889.3,903.2 1890.5,898.7 1892.0,904.7 1893.5,912.2 1895.0,918.2 1896.8,924.2 1898.3,925.7 1899.8,916.7 1901.3,919.7 1902.8,924.2 1904.3,928.7 1905.9,934.8 1907.4,934.8 1908.9,937.8 1910.4,928.7 1911.9,919.7 1913.4,924.2 1914.9,933.3 1916.4,940.8 1917.9,943.8 1919.4,936.3 1920.9,934.8 1922.4,936.3 1923.9,938.5 1925.4,940.8 1926.9,939.3 1928.4,942.3 1929.6,931.8 1930.7,936.3 1931.7,943.8 1933.2,924.2 1934.8,906.2 1936.2,918.2 1937.8,928.7 1939.3,931.8 1940.8,931.8 1942.3,933.3 1943.8,930.2 1945.3,926.5 1946.8,933.3 1948.3,937.8 1949.8,931.8 1951.3,927.2 1952.8,919.7 1954.3,915.2 1955.8,909.2 1957.3,904.7 1958.8,910.7 1960.3,921.2 1961.8,928.7 1963.3,921.2 1964.8,912.2 1966.3,924.2 1967.8,936.3 1969.4,940.8 1970.9,930.2 1972.4,907.7 1973.6,895.6 1975.1,916.7 1976.6,924.2 1978.4,933.3 1980.2,919.7 1981.7,921.2 1983.2,936.3 1984.7,939.3 1986.2,936.3 1987.7,940.8 1989.2,927.2 1990.7,913.7 1992.2,916.7 1993.7,924.2 1995.2,936.3 1996.7,945.3 1998.2,948.3 1999.8,943.8 2001.3,936.3 2002.8,939.3 2004.3,927.2 2005.8,922.7 2007.3,937.8 2008.8,936.3 2010.3,930.2 2011.8,922.7 2013.3,919.7 2014.5,933.3 2015.7,951.3 2017.2,930.2 2018.7,886.6 2019.9,907.7 2021.1,945.3 2022.3,946.8 2023.8,930.2 2025.3,907.7 2026.5,915.2 2027.7,928.7 2029.2,921.2 2030.8,912.2 2032.3,913.7 2033.8,922.7 2035.3,915.2 2036.8,924.2 2038.3,936.3 2039.8,913.7 2041.3,931.8 2042.8,931.8 2044.3,928.7 2045.8,912.2 2047.3,904.7 2048.8,924.2 2050.3,918.2 2051.8,906.2 2053.3,921.2 2054.8,921.2 2056.3,898.7 2057.5,912.2 2058.7,933.3 2059.9,919.7 2061.4,901.7 2062.7,921.2 2064.2,937.8 2066.0,946.8 2067.5,951.3 2069.0,931.8 2070.5,921.2 2072.0,918.2 2073.5,907.7 2075.0,930.2 2076.5,943.8 2078.0,922.7 2079.5,915.2 2081.0,924.2 2082.5,928.7 2084.0,940.8 2085.5,936.3 2087.0,933.3 2088.5,942.3 2090.3,946.8 2091.2,930.2 2092.2,892.6 2093.7,889.6 2095.2,910.7 2096.1,889.6 2097.6,880.6 2099.1,906.2" fill="none" stroke="#000" stroke-width="3" stroke-linejoin="round" stroke-linecap="butt"/><clipPath id="cLB"><rect x="109.15" y="979.80" width="920.55" height="671.70"/></clipPath><polyline clip-path="url(#cLB)" points="110.5,975.0 110.8,980.8 112.2,1032.5 113.6,1104.3 115.1,1147.5 116.5,1176.2 118.5,1189.1 120.8,1186.2 124.5,1181.9 126.6,1170.5 128.6,1153.2 131.4,1140.3 133.7,1128.8 136.6,1127.3 138.9,1118.7 141.8,1107.2 145.2,1101.5 149.6,1098.6 152.4,1101.5 156.7,1107.2 161.1,1114.4 165.4,1123.0 169.7,1131.6 172.5,1141.7 176.3,1154.6 179.7,1166.1 183.2,1176.2 185.5,1187.7 188.3,1204.9 191.2,1215.0 194.1,1222.2 197.0,1227.9 200.4,1235.1 203.3,1236.5 206.2,1245.2 209.1,1248.0 212.8,1249.5 215.1,1258.1 218.5,1258.1 221.4,1271.0 224.3,1288.3 227.2,1305.5 229.2,1315.6 232.9,1318.5 235.8,1321.3 239.5,1322.8 243.0,1325.7 247.3,1328.5 251.6,1330.0 255.9,1331.4 260.2,1334.3 264.5,1336.6 268.8,1337.7 273.1,1338.6 277.5,1340.6 281.8,1342.9 286.1,1344.3 290.4,1345.8 294.7,1347.2 299.0,1347.2 303.3,1351.5 306.2,1358.7 309.6,1357.3 312.5,1354.4 316.3,1358.7 320.6,1363.0 324.9,1364.5 329.2,1367.3 333.5,1370.2 337.8,1373.1 340.0,1373.7 343.4,1379.7 346.9,1384.8 350.3,1386.5 353.7,1391.7 357.1,1395.1 360.6,1396.0 364.9,1397.7 368.3,1402.0 371.7,1405.4 376.0,1405.4 380.3,1407.1 383.7,1409.7 385.4,1411.4 388.9,1409.7 393.1,1409.2 396.6,1410.5 400.0,1412.3 403.4,1415.7 406.9,1418.3 410.3,1419.1 415.4,1420.8 418.9,1423.4 422.3,1426.8 425.7,1426.0 429.1,1428.5 433.4,1432.0 437.7,1434.5 442.9,1438.0 448.0,1441.4 451.4,1444.0 455.7,1445.7 460.0,1448.2 462.6,1446.5 465.1,1444.8 467.7,1448.2 471.1,1449.1 475.4,1451.7 480.6,1454.2 484.9,1456.8 489.1,1460.2 494.3,1464.5 498.6,1468.0 502.9,1468.0 507.1,1467.1 511.4,1468.0 516.6,1468.0 521.7,1470.5 526.9,1472.2 532.0,1474.8 537.1,1477.4 542.3,1477.7 546.6,1477.0 552.6,1476.5 558.6,1476.5 562.9,1477.4 566.3,1480.0 571.4,1481.2 577.4,1481.2 583.4,1482.5 588.6,1484.2 593.7,1486.8 600.6,1487.7 605.7,1490.2 610.9,1493.7 617.7,1495.4 624.6,1497.9 631.4,1499.7 650.0,1504.0 672.0,1508.0 695.0,1511.3 698.2,1510.9 702.3,1509.3 706.3,1510.5 711.2,1512.1 716.0,1513.2 720.9,1514.5 725.8,1516.1 730.6,1516.9 735.5,1516.9 740.3,1517.4 745.2,1518.1 749.2,1516.4 753.3,1518.5 757.3,1519.7 761.4,1520.2 766.2,1521.8 769.5,1523.4 772.7,1524.2 776.0,1521.8 779.2,1522.6 783.2,1522.9 786.5,1523.4 788.9,1524.5 792.1,1522.9 797.0,1522.6 801.9,1521.8 806.7,1521.8 811.6,1522.6 816.4,1523.9 821.3,1524.2 826.1,1525.8 831.0,1525.5 835.9,1525.8 840.7,1525.5 845.6,1525.8 850.4,1525.8 855.3,1526.2 860.1,1525.0 865.0,1525.0 869.9,1525.8 874.7,1527.5 878.8,1528.3 882.8,1526.6 887.7,1525.0 892.5,1525.0 896.6,1525.8 900.6,1527.5 905.5,1528.3 910.3,1528.3 913.6,1527.9 916.8,1529.9 920.9,1531.5 924.9,1531.5 929.8,1532.3 933.0,1533.1 937.9,1531.5 942.7,1531.5 947.6,1531.0 952.4,1531.5 957.3,1532.3 962.1,1533.1 967.0,1534.7 971.9,1535.2 976.7,1534.7 981.6,1533.6 986.4,1532.3 991.3,1533.1 996.1,1532.3 1001.0,1532.0 1005.9,1533.1 1010.7,1533.1 1015.6,1532.0 1018.8,1531.0 1021.2,1532.6" fill="none" stroke="#000" stroke-width="3" stroke-linejoin="round" stroke-linecap="butt"/><polyline clip-path="url(#cLB)" points="110.5,975.0 110.8,980.8 111.3,1061.2 112.2,1176.2 113.0,1262.4 114.2,1319.9 115.3,1334.3 116.5,1314.2 118.8,1262.4 120.8,1225.1 122.8,1207.8 125.1,1202.1 127.4,1190.6 130.3,1170.5 133.7,1157.5 136.6,1156.1 140.9,1156.7 145.2,1157.5 148.1,1161.8 151.0,1167.6 153.9,1176.2 158.2,1189.1 162.5,1202.1 166.8,1213.6 171.1,1225.1 175.4,1239.4 179.7,1250.9 184.0,1262.4 188.3,1273.9 192.7,1285.4 197.0,1291.2 201.3,1296.9 205.6,1302.7 209.9,1305.5 213.7,1307.0 217.1,1311.3 220.5,1317.0 223.4,1322.8 226.3,1331.4 229.2,1338.6 232.9,1341.5 237.2,1344.3 243.0,1348.7 248.7,1351.5 254.5,1354.4 260.2,1357.3 266.0,1360.2 271.7,1361.6 277.5,1364.5 283.2,1367.3 288.9,1370.2 294.7,1373.1 300.4,1374.5 306.2,1377.4 310.5,1378.8 314.8,1380.3 319.1,1384.6 323.4,1386.0 327.8,1387.5 332.1,1388.9 337.8,1391.8 340.0,1390.8 343.4,1394.3 347.7,1397.2 352.0,1400.3 355.4,1403.3 360.6,1405.4 365.7,1408.0 370.9,1410.2 376.0,1412.3 381.1,1414.0 385.4,1414.8 388.0,1414.0 393.1,1415.7 398.3,1418.3 403.4,1420.0 408.6,1422.5 413.7,1425.1 420.6,1426.8 425.7,1427.7 430.9,1430.2 436.0,1432.8 441.1,1434.5 446.3,1436.2 453.1,1438.8 460.0,1441.4 466.9,1443.5 473.7,1444.5 480.6,1448.2 487.4,1450.8 494.3,1453.4 501.1,1456.0 506.3,1455.1 511.4,1456.8 518.3,1458.5 523.4,1460.2 530.3,1462.8 537.1,1463.7 544.0,1464.5 549.1,1465.4 556.0,1467.1 562.9,1468.0 569.7,1469.7 574.9,1470.5 581.7,1471.4 588.6,1472.2 593.7,1474.0 600.6,1474.8 607.4,1477.4 614.3,1479.1 621.1,1480.8 628.0,1481.7 634.9,1482.9 641.7,1484.2 648.6,1485.6 655.4,1486.8 662.3,1487.7 669.1,1490.2 674.3,1492.8 682.9,1492.8 691.4,1493.7 695.0,1494.2 699.9,1493.4 703.9,1493.8 708.0,1495.1 712.8,1496.7 717.7,1498.0 722.5,1499.1 727.4,1500.2 732.2,1501.2 737.1,1501.9 742.0,1502.8 746.8,1502.3 751.7,1502.8 756.5,1504.5 761.4,1505.6 766.2,1506.7 771.1,1507.7 776.0,1507.2 780.8,1507.4 785.7,1507.7 790.5,1508.0 795.4,1508.7 800.2,1508.0 805.1,1508.0 810.0,1508.3 814.8,1508.8 819.7,1509.6 824.5,1510.6 829.4,1510.9 834.2,1511.3 839.1,1511.6 844.0,1511.7 848.8,1512.1 853.7,1512.1 858.5,1511.6 863.4,1511.7 868.2,1512.2 873.1,1512.9 878.0,1513.7 882.8,1513.7 887.7,1512.9 892.5,1512.9 897.4,1513.7 902.2,1515.3 907.1,1515.8 912.0,1515.3 915.2,1516.1 918.4,1517.7 923.3,1518.5 928.1,1518.2 933.0,1519.0 937.9,1518.5 942.7,1518.1 947.6,1518.5 952.4,1519.3 957.3,1519.7 962.1,1520.7 967.0,1521.3 971.9,1521.6 976.7,1521.8 981.6,1521.0 986.4,1521.3 991.3,1522.3 996.1,1522.9 1001.0,1523.4 1005.9,1524.2 1010.7,1525.0 1015.6,1524.5 1018.8,1523.9 1021.2,1522.9" fill="none" stroke="#f00" stroke-width="3" stroke-linejoin="round" stroke-linecap="butt"/><polyline clip-path="url(#cLB)" points="110.8,1574.4 111.2,1539.4 111.9,1507.5 113.5,1459.7 115.1,1419.8 116.7,1392.8 117.1,1383.1 118.8,1368.8 120.8,1357.3 122.8,1350.1 125.1,1345.8 128.0,1338.6 130.9,1331.4 133.7,1324.2 137.2,1317.0 140.9,1311.3 144.7,1305.5 148.7,1302.7 153.9,1301.8 158.2,1303.2 162.5,1306.1 166.8,1309.0 171.1,1311.9 175.4,1315.6 179.7,1319.9 185.5,1324.2 191.2,1328.5 197.0,1332.8 201.3,1337.2 205.6,1339.5 209.9,1341.5 214.2,1342.9 218.5,1345.8 222.8,1348.7 228.6,1352.1 234.3,1355.0 240.1,1357.8 245.8,1360.7 251.6,1363.6 257.3,1366.5 263.1,1370.2 268.8,1373.1 274.6,1376.0 280.3,1378.8 286.1,1381.7 291.8,1384.6 297.6,1387.5 303.3,1388.9 309.1,1391.2 314.8,1393.2 320.6,1395.5 326.3,1396.9 332.1,1399.0 337.8,1401.0 340.0,1402.0 344.3,1404.0 348.6,1406.3 352.9,1409.2 357.1,1410.9 362.3,1412.6 367.4,1414.8 372.6,1417.4 377.7,1420.0 382.9,1421.7 388.0,1423.4 393.1,1424.8 398.3,1426.5 403.4,1428.5 408.6,1429.9 413.7,1431.1 418.9,1432.0 424.0,1432.5 429.1,1434.5 434.3,1436.2 439.4,1438.0 444.6,1439.7 449.7,1441.0 454.9,1442.2 460.0,1443.1 465.1,1444.5 470.3,1445.8 475.4,1446.2 480.6,1446.9 485.7,1448.2 490.9,1449.6 496.0,1451.7 501.1,1453.4 506.3,1453.0 511.4,1454.2 518.3,1456.0 525.1,1458.5 532.0,1461.1 538.9,1461.6 545.7,1462.3 552.6,1463.7 559.4,1465.4 566.3,1466.2 573.1,1467.6 580.0,1468.5 586.9,1469.2 593.7,1470.5 600.6,1471.9 607.4,1474.3 614.3,1476.5 621.1,1478.8 628.0,1480.0 634.9,1481.2 641.7,1482.5 648.6,1483.9 655.4,1485.1 662.3,1486.0 669.1,1488.5 674.3,1491.1 682.9,1491.1 691.4,1491.4 695.0,1491.8 699.9,1491.5 703.9,1491.8 708.0,1493.4 712.8,1495.1 717.7,1496.4 722.5,1497.5 727.4,1498.6 732.2,1499.3 737.1,1499.9 742.0,1500.9 746.8,1500.4 751.7,1500.7 756.5,1502.2 761.4,1503.2 766.2,1504.5 771.1,1505.6 776.0,1505.1 780.8,1505.4 785.7,1505.8 790.5,1506.1 795.4,1506.4 800.2,1505.8 805.1,1506.1 810.0,1506.4 814.8,1506.9 819.7,1507.4 824.5,1508.3 829.4,1508.7 834.2,1509.0 839.1,1509.6 844.0,1510.0 848.8,1510.1 853.7,1510.0 858.5,1509.6 863.4,1510.0 868.2,1510.3 873.1,1510.9 878.0,1511.6 882.8,1511.6 887.7,1510.9 892.5,1510.9 897.4,1511.9 902.2,1513.2 907.1,1513.7 912.0,1512.9 915.2,1514.2 918.4,1515.8 923.3,1516.1 928.1,1516.1 933.0,1516.8 937.9,1516.1 942.7,1515.8 947.6,1516.4 952.4,1517.1 957.3,1517.4 962.1,1518.2 967.0,1519.0 971.9,1519.3 976.7,1519.7 981.6,1518.7 986.4,1519.0 991.3,1520.0 996.1,1520.7 1001.0,1521.3 1005.9,1522.3 1010.7,1523.4 1015.6,1523.6 1018.8,1523.2 1021.2,1521.8" fill="none" stroke="#008000" stroke-width="3" stroke-linejoin="round" stroke-linecap="butt"/><clipPath id="cRB"><rect x="1187.20" y="979.80" width="920.60" height="671.70"/></clipPath><polyline clip-path="url(#cRB)" points="1192.4,1648.4 1198.7,1646.8 1204.9,1648.4 1211.2,1647.8 1217.4,1647.8 1222.1,1645.9 1225.2,1642.2 1228.4,1639.0 1231.5,1637.5 1234.6,1632.8 1237.8,1629.6 1240.9,1623.4 1244.0,1614.0 1247.2,1604.6 1250.3,1598.3 1252.5,1592.1 1254.3,1576.4 1256.5,1570.2 1258.1,1579.5 1259.7,1560.8 1261.2,1538.9 1262.8,1542.0 1264.4,1523.2 1265.9,1498.2 1267.5,1490.3 1269.0,1491.9 1270.6,1416.8 1272.2,1360.4 1273.7,1310.3 1274.7,1366.7 1275.6,1423.0 1276.9,1297.8 1278.1,1329.1 1279.4,1341.6 1280.6,1313.5 1281.9,1326.0 1283.1,1138.2 1284.4,1197.7 1285.6,1266.5 1287.2,1344.8 1288.8,1219.6 1290.0,1213.3 1291.9,1169.5 1293.5,1235.2 1294.7,1297.8 1296.0,1357.3 1297.5,1366.7 1298.8,1297.8 1300.0,1229.0 1301.3,1329.1 1302.5,1454.3 1303.8,1485.6 1305.0,1548.2 1306.6,1535.7 1308.2,1516.9 1309.7,1429.3 1311.3,1451.2 1312.9,1463.7 1314.4,1516.9 1316.0,1538.9 1317.5,1470.0 1319.1,1398.0 1320.7,1410.5 1322.2,1438.7 1323.8,1463.7 1325.4,1438.7 1326.9,1441.8 1328.5,1460.6 1330.1,1482.5 1331.9,1460.6 1333.2,1445.0 1334.8,1432.4 1336.3,1479.4 1337.9,1516.9 1339.5,1554.5 1341.0,1551.4 1342.6,1557.6 1344.5,1554.5 1345.7,1551.4 1347.6,1535.7 1349.8,1507.5 1351.3,1523.2 1352.9,1535.7 1354.5,1548.2 1356.0,1588.9 1357.6,1579.5 1359.2,1554.5 1360.7,1551.4 1362.3,1542.0 1363.9,1548.2 1365.4,1495.0 1367.0,1454.3 1368.2,1407.4 1369.5,1423.0 1370.7,1473.1 1372.3,1507.5 1373.6,1419.9 1374.8,1435.5 1376.1,1485.6 1377.3,1507.5 1378.9,1504.4 1380.4,1438.7 1381.7,1344.8 1383.3,1360.4 1384.8,1426.2 1386.4,1463.7 1388.0,1435.5 1389.5,1401.1 1390.8,1360.4 1392.0,1354.2 1393.3,1385.5 1394.5,1419.9 1396.4,1451.2 1398.3,1407.4 1399.8,1438.7 1401.4,1466.9 1403.0,1451.2 1404.5,1432.4 1406.1,1441.8 1407.7,1466.9 1409.2,1448.1 1410.8,1485.6 1412.4,1460.6 1413.9,1438.7 1415.5,1432.4 1417.0,1429.3 1418.6,1441.8 1420.2,1470.0 1421.8,1441.8 1423.0,1441.8 1423.0,1443.2 1424.2,1443.2 1425.7,1467.1 1427.6,1455.1 1429.0,1469.5 1431.2,1505.3 1432.8,1455.1 1434.2,1383.4 1435.2,1342.8 1436.6,1311.7 1438.5,1309.3 1440.9,1291.4 1442.4,1330.8 1443.8,1347.6 1445.7,1357.1 1447.6,1350.0 1449.5,1330.8 1451.5,1299.8 1452.9,1311.7 1455.0,1316.5 1456.7,1354.7 1458.2,1383.4 1459.8,1407.3 1461.5,1421.7 1463.4,1455.1 1464.8,1459.9 1466.3,1431.2 1468.2,1412.1 1469.6,1400.2 1471.1,1404.9 1473.0,1390.6 1475.4,1383.4 1477.3,1373.9 1478.7,1364.3 1480.1,1381.0 1481.6,1388.2 1483.0,1369.1 1484.4,1373.9 1486.1,1359.5 1487.3,1354.7 1488.5,1378.7 1489.7,1393.0 1490.9,1431.2 1492.6,1479.0 1494.0,1503.0 1495.9,1526.8 1497.3,1541.2 1498.8,1562.7 1500.2,1577.0 1502.1,1574.7 1503.6,1553.2 1504.5,1524.5 1506.9,1522.1 1508.8,1519.7 1510.7,1517.3 1511.9,1503.0 1513.1,1526.8 1514.6,1517.3 1516.0,1493.4 1517.4,1474.3 1518.9,1455.1 1520.3,1436.0 1521.7,1416.9 1523.2,1436.0 1524.6,1479.0 1526.0,1514.9 1527.9,1548.4 1529.4,1526.8 1530.8,1467.1 1532.2,1459.9 1533.7,1479.0 1535.1,1467.1 1536.5,1459.9 1538.0,1493.4 1539.4,1500.6 1540.8,1479.0 1542.3,1421.7 1543.2,1418.1 1544.7,1438.4 1546.1,1479.0 1547.5,1512.5 1549.5,1522.1 1550.9,1553.2 1552.3,1574.7 1554.2,1579.4 1555.7,1569.9 1557.1,1557.9 1559.0,1550.8 1560.9,1534.0 1562.6,1524.5 1564.3,1522.1 1566.2,1526.8 1568.1,1529.2 1570.0,1534.0 1571.9,1543.6 1573.3,1550.8 1574.8,1569.9 1576.2,1589.0 1578.1,1589.0 1580.0,1605.7 1582.0,1622.5 1583.9,1608.1 1585.3,1589.0 1587.7,1579.4 1589.6,1557.9 1591.5,1536.4 1593.4,1550.8 1594.9,1574.7 1596.3,1579.4 1597.7,1562.7 1599.2,1541.2 1600.6,1526.8 1602.5,1543.6 1604.4,1562.7 1606.3,1569.9 1608.2,1565.1 1610.2,1572.3 1612.1,1579.4 1614.0,1586.6 1615.9,1608.1 1617.8,1615.3 1620.2,1617.7 1621.6,1601.0 1623.1,1562.7 1624.5,1526.8 1625.9,1514.9 1627.8,1498.2 1629.3,1476.7 1630.7,1471.9 1632.2,1486.2 1634.1,1512.5 1636.0,1493.4 1637.4,1469.5 1639.3,1471.9 1641.2,1474.3 1643.1,1493.4 1645.1,1512.5 1647.0,1522.1 1648.9,1507.7 1650.3,1488.6 1651.8,1486.2 1653.2,1493.4 1654.6,1486.2 1656.0,1493.4 1657.5,1517.3 1658.9,1526.8 1660.3,1522.1 1661.8,1531.6 1663.2,1526.8 1664.7,1538.8 1666.6,1555.5 1667.9,1560.1 1669.1,1564.9 1670.3,1558.5 1671.8,1545.7 1673.4,1533.0 1675.8,1525.0 1677.3,1536.2 1678.6,1555.3 1679.9,1571.2 1681.2,1579.2 1682.1,1571.2 1683.4,1572.8 1684.7,1580.8 1685.6,1568.0 1686.9,1547.3 1688.2,1537.8 1689.3,1547.3 1690.4,1564.9 1691.7,1547.3 1693.0,1526.6 1694.2,1523.4 1695.5,1534.6 1696.5,1523.4 1697.8,1518.7 1698.7,1510.7 1700.0,1518.7 1701.2,1501.1 1702.2,1490.0 1703.5,1504.3 1704.4,1517.0 1705.4,1501.1 1706.3,1478.8 1707.6,1469.2 1708.9,1475.6 1710.2,1494.7 1711.1,1505.9 1712.4,1488.4 1713.7,1469.2 1714.6,1456.5 1715.6,1454.9 1716.6,1469.2 1717.8,1488.4 1719.1,1510.7 1720.4,1525.0 1721.7,1517.0 1722.9,1491.5 1724.2,1510.7 1725.5,1533.0 1726.8,1504.3 1728.0,1477.2 1729.3,1491.5 1730.6,1510.7 1731.9,1513.9 1733.1,1512.3 1734.4,1515.5 1735.7,1518.7 1737.0,1501.1 1738.2,1472.4 1739.5,1454.9 1740.8,1478.8 1741.7,1517.0 1742.7,1555.3 1744.0,1580.8 1744.9,1609.5 1745.9,1595.1 1746.8,1579.2 1748.1,1571.2 1749.1,1564.9 1750.3,1563.3 1751.6,1576.0 1752.9,1587.2 1754.2,1588.8 1755.5,1592.0 1757.0,1585.6 1758.3,1579.2 1759.6,1571.2 1760.9,1563.3 1762.1,1563.3 1763.4,1580.8 1764.4,1592.0 1765.3,1579.2 1766.6,1569.6 1767.9,1568.0 1769.2,1588.8 1770.4,1577.6 1771.7,1569.6 1773.0,1571.2 1774.2,1577.6 1775.5,1595.1 1776.8,1584.0 1778.1,1571.2 1779.3,1560.1 1780.6,1566.5 1781.9,1584.0 1783.2,1579.2 1784.5,1571.2 1785.7,1572.8 1787.0,1580.8 1788.3,1571.2 1789.6,1571.2 1790.5,1580.8 1791.8,1592.0 1793.1,1596.7 1794.3,1611.1 1795.6,1614.3 1796.9,1607.9 1798.2,1611.1 1799.4,1620.6 1800.7,1619.0 1802.0,1612.7 1803.3,1609.5 1804.5,1599.9 1805.8,1590.4 1807.1,1585.6 1808.4,1571.2 1809.6,1560.1 1811.2,1552.1 1812.8,1544.1 1814.4,1541.0 1816.0,1537.8 1817.6,1541.0 1819.2,1531.4 1820.5,1526.6 1821.8,1534.6 1823.0,1541.0 1824.3,1550.5 1825.6,1539.4 1826.8,1537.8 1828.1,1544.1 1829.4,1547.3 1830.7,1555.3 1832.0,1560.1 1833.2,1555.3 1834.5,1548.9 1835.8,1544.1 1837.0,1550.5 1838.3,1533.0 1839.6,1526.6 1840.9,1563.3 1842.2,1539.4 1843.4,1517.0 1844.7,1504.3 1846.0,1518.7 1847.3,1536.2 1848.5,1533.0 1849.8,1520.2 1851.1,1504.3 1852.0,1499.5 1853.3,1529.8 1854.6,1547.3 1855.9,1526.6 1857.1,1504.3 1858.4,1488.4 1859.7,1496.3 1861.0,1509.1 1862.2,1501.1 1863.5,1499.5 1864.8,1502.7 1866.1,1497.9 1867.3,1523.4 1868.6,1566.5 1870.2,1548.9 1871.8,1518.7 1873.4,1505.9 1874.7,1517.0 1876.0,1537.8 1877.2,1528.2 1878.5,1526.6 1879.8,1533.0 1881.0,1541.0 1882.3,1555.3 1883.6,1547.3 1884.9,1533.0 1886.2,1550.5 1887.4,1558.5 1888.7,1536.2 1890.0,1525.0 1891.2,1547.3 1892.9,1555.3 1894.4,1521.8 1896.0,1529.8 1897.6,1534.6 1899.2,1536.2 1900.8,1537.8 1902.3,1545.7 1903.9,1556.9 1905.5,1550.5 1907.1,1553.7 1908.7,1552.1 1910.3,1553.7 1911.9,1563.3 1913.5,1579.2 1915.1,1593.5 1916.7,1584.0 1918.3,1574.4 1919.9,1571.2 1921.5,1584.0 1923.0,1585.6 1924.7,1571.2 1926.2,1585.6 1927.8,1579.2 1929.4,1580.8 1931.0,1584.0 1932.6,1582.4 1934.2,1595.1 1935.8,1603.1 1937.4,1593.5 1939.0,1599.9 1940.6,1603.1 1942.2,1611.1 1943.8,1619.0 1945.4,1615.9 1947.0,1609.5 1948.5,1619.0 1950.1,1606.3 1951.7,1609.5 1953.3,1596.7 1954.9,1584.0 1956.5,1592.0 1958.1,1580.8 1959.7,1584.0 1961.3,1571.2 1962.9,1560.1 1964.5,1552.1 1966.1,1558.5 1967.7,1577.6 1969.3,1593.5 1970.9,1599.9 1972.1,1593.5 1973.4,1603.1 1974.7,1617.5 1976.0,1599.9 1977.2,1612.7 1978.8,1599.9 1980.4,1601.5 1982.0,1603.1 1983.6,1601.5 1985.2,1596.7 1986.8,1595.1 1988.4,1592.0 1990.0,1599.9 1991.6,1609.5 1993.2,1614.3 1994.8,1603.1 1996.3,1596.7 1997.9,1596.7 1999.5,1606.3 2001.1,1609.5 2002.7,1588.8 2004.3,1587.2 2005.9,1568.0 2007.5,1584.0 2009.1,1603.1 2010.7,1596.7 2012.3,1598.3 2013.9,1587.2 2015.5,1572.8 2017.1,1587.2 2018.7,1619.0 2019.9,1628.6 2021.2,1606.3 2022.8,1584.0 2024.4,1603.1 2026.0,1614.3 2027.6,1606.3 2029.2,1604.7 2030.8,1607.9 2032.4,1611.1 2034.0,1619.0 2035.5,1587.2 2037.1,1568.0 2038.7,1576.0 2040.3,1593.5 2041.9,1596.7 2043.5,1571.2 2045.1,1539.4 2046.4,1534.6 2048.0,1552.1 2049.6,1572.8 2051.2,1577.6 2052.8,1577.6 2054.3,1576.0 2055.9,1568.0 2057.5,1544.1 2059.1,1555.3 2060.4,1599.9 2062.0,1593.5 2063.3,1585.6 2064.9,1603.1 2066.5,1592.0 2068.1,1582.4 2069.6,1571.2 2071.2,1564.9 2072.8,1555.3 2074.4,1555.3 2076.0,1564.9 2077.6,1539.4 2079.2,1517.0 2080.8,1531.4 2082.4,1537.8 2084.0,1533.0 2085.6,1537.8 2087.2,1563.3 2088.4,1590.4 2089.7,1574.4 2091.0,1531.4 2092.6,1520.2 2094.2,1547.3 2095.5,1588.8 2096.7,1619.0 2097.4,1549.7 2101.5,1549.7" fill="none" stroke="#000" stroke-width="3" stroke-linejoin="round" stroke-linecap="butt"/><polyline clip-path="url(#cRB)" points="1192.4,1648.4 1198.7,1647.8 1208.0,1649.0 1217.4,1648.4 1223.7,1647.8 1226.8,1643.7 1229.9,1639.0 1233.1,1635.9 1236.2,1634.3 1239.3,1631.2 1242.5,1626.5 1245.6,1618.7 1248.7,1614.0 1251.8,1601.5 1254.3,1593.6 1256.5,1576.4 1258.1,1585.8 1259.7,1579.5 1261.2,1551.4 1262.8,1554.5 1264.4,1542.0 1265.9,1513.8 1267.5,1504.4 1269.0,1491.9 1270.6,1501.3 1272.2,1479.4 1273.7,1460.6 1275.3,1454.3 1276.9,1479.4 1278.4,1485.6 1280.0,1482.5 1281.6,1510.7 1283.1,1535.7 1284.7,1526.3 1286.3,1520.1 1287.8,1529.5 1289.4,1538.9 1291.0,1504.4 1292.5,1507.5 1294.1,1538.9 1295.7,1545.1 1297.2,1560.8 1298.8,1573.3 1300.3,1585.8 1301.9,1563.9 1303.5,1532.6 1305.0,1542.0 1306.6,1535.7 1308.2,1542.0 1309.7,1554.5 1311.3,1538.9 1312.9,1560.8 1314.4,1567.0 1316.0,1557.6 1317.5,1563.9 1319.1,1560.8 1320.7,1542.0 1322.2,1532.6 1323.8,1523.2 1325.4,1520.1 1326.9,1529.5 1328.5,1548.2 1330.1,1542.0 1331.6,1535.7 1333.2,1545.1 1334.8,1538.9 1336.3,1532.6 1337.9,1554.5 1339.5,1573.3 1341.0,1576.4 1342.6,1570.2 1344.2,1582.7 1345.7,1573.3 1347.3,1554.5 1348.8,1570.2 1350.4,1588.9 1352.0,1582.7 1353.5,1585.8 1355.1,1573.3 1356.7,1576.4 1358.2,1563.9 1359.8,1567.0 1361.4,1570.2 1362.9,1576.4 1364.5,1588.9 1366.0,1598.3 1367.6,1604.6 1369.2,1617.1 1370.7,1601.5 1372.3,1542.0 1373.9,1507.5 1375.4,1542.0 1377.0,1570.2 1378.6,1585.8 1380.1,1598.3 1381.7,1573.3 1383.3,1554.5 1384.8,1576.4 1386.4,1579.5 1388.0,1573.3 1389.5,1535.7 1391.1,1513.8 1392.7,1523.2 1394.2,1548.2 1395.8,1560.8 1397.3,1542.0 1398.9,1520.1 1400.5,1532.6 1402.0,1567.0 1403.6,1548.2 1405.2,1529.5 1406.7,1532.6 1408.3,1523.2 1409.9,1513.8 1411.4,1488.8 1413.0,1504.4 1414.5,1520.1 1416.1,1516.9 1417.7,1526.3 1419.2,1529.5 1420.8,1542.0 1423.0,1554.5 1423.0,1541.2 1423.7,1538.8 1425.2,1524.5 1426.6,1534.0 1428.0,1541.2 1429.5,1538.8 1430.9,1550.8 1432.8,1565.1 1434.2,1546.0 1435.7,1534.0 1437.1,1519.7 1438.5,1514.9 1440.5,1505.3 1441.9,1503.0 1443.3,1512.5 1444.8,1503.0 1446.7,1495.8 1448.1,1491.0 1449.5,1495.8 1451.5,1505.3 1453.4,1498.2 1455.3,1503.0 1456.7,1498.2 1458.6,1493.4 1460.1,1486.2 1461.5,1498.2 1462.9,1503.0 1464.4,1479.0 1465.8,1459.9 1467.2,1464.7 1468.7,1483.8 1470.1,1474.3 1471.5,1464.7 1473.0,1469.5 1474.9,1471.9 1476.8,1469.5 1478.7,1464.7 1480.6,1459.9 1482.5,1462.3 1484.0,1471.9 1485.4,1488.6 1487.3,1495.8 1488.8,1510.1 1490.2,1531.6 1491.6,1550.8 1493.0,1562.7 1494.5,1562.7 1495.9,1560.3 1497.3,1555.5 1498.8,1560.3 1500.2,1555.5 1501.7,1550.8 1503.1,1541.2 1504.5,1546.0 1506.0,1553.2 1507.4,1548.4 1508.8,1555.5 1510.3,1557.9 1511.7,1553.2 1513.1,1546.0 1514.6,1538.8 1516.0,1526.8 1517.4,1522.1 1518.9,1519.7 1520.3,1524.5 1521.7,1538.8 1523.6,1555.5 1525.5,1569.9 1527.0,1574.7 1528.9,1569.9 1530.8,1574.7 1532.7,1579.4 1534.6,1589.0 1536.5,1598.6 1538.0,1601.0 1539.4,1589.0 1540.8,1574.7 1542.3,1565.1 1544.2,1569.9 1546.1,1579.4 1548.0,1574.7 1549.9,1569.9 1551.8,1572.3 1553.8,1579.4 1555.7,1586.6 1557.6,1591.4 1559.5,1596.2 1561.4,1593.8 1563.3,1589.0 1565.2,1589.0 1567.1,1593.8 1569.0,1591.4 1571.0,1586.6 1573.3,1584.2 1575.7,1585.4 1578.1,1581.8 1579.6,1577.0 1581.5,1579.4 1583.4,1584.2 1585.3,1589.0 1587.2,1596.2 1589.1,1603.3 1590.6,1610.5 1592.0,1612.9 1593.9,1617.7 1595.8,1622.5 1597.7,1617.7 1599.2,1612.9 1600.6,1610.5 1602.0,1608.1 1604.0,1612.9 1605.9,1620.1 1607.8,1617.7 1609.7,1612.9 1611.6,1608.1 1614.0,1603.3 1616.4,1601.0 1618.8,1603.3 1620.7,1608.1 1622.6,1612.9 1624.5,1612.9 1626.4,1611.7 1628.3,1610.5 1630.2,1610.5 1632.2,1601.0 1634.1,1589.0 1636.0,1579.4 1637.9,1572.3 1639.8,1567.5 1641.7,1567.5 1643.6,1572.3 1645.5,1581.8 1647.5,1593.8 1649.4,1605.7 1651.3,1610.5 1653.2,1605.7 1655.1,1598.6 1657.0,1598.6 1658.9,1601.0 1660.8,1603.3 1662.7,1602.2 1664.7,1603.3 1666.6,1605.7 1667.9,1609.5 1669.1,1606.3 1670.3,1599.9 1671.9,1595.1 1673.5,1590.4 1675.1,1585.6 1676.7,1582.4 1678.3,1584.0 1679.6,1587.2 1680.8,1592.0 1682.1,1596.7 1683.4,1599.9 1684.7,1601.5 1686.0,1602.3 1687.2,1601.5 1688.5,1596.7 1689.8,1590.4 1691.0,1585.6 1692.3,1584.0 1693.6,1584.0 1694.9,1587.2 1696.2,1588.8 1697.4,1590.4 1698.7,1592.0 1700.0,1587.2 1701.2,1582.4 1702.8,1577.6 1704.4,1572.8 1706.0,1569.6 1707.6,1567.2 1709.2,1565.7 1710.8,1564.9 1712.4,1566.5 1714.0,1569.6 1715.6,1574.4 1717.2,1579.2 1718.8,1584.0 1720.4,1587.2 1722.0,1590.4 1723.6,1593.5 1725.2,1595.1 1726.8,1593.5 1728.3,1588.8 1729.9,1585.6 1731.5,1582.4 1733.1,1579.2 1734.7,1577.6 1736.3,1576.0 1737.9,1577.6 1739.5,1580.8 1741.1,1584.0 1742.7,1587.2 1744.3,1588.8 1745.9,1592.0 1747.5,1595.1 1749.1,1598.3 1750.7,1601.5 1752.3,1603.1 1753.8,1602.3 1755.5,1599.9 1757.0,1596.7 1758.6,1592.0 1760.2,1587.2 1761.8,1584.0 1763.4,1580.8 1765.0,1577.6 1766.6,1576.0 1768.2,1576.0 1769.8,1577.6 1771.4,1579.2 1773.0,1580.8 1774.6,1582.4 1776.2,1584.8 1777.8,1587.2 1779.3,1588.8 1781.0,1592.0 1782.5,1593.5 1784.1,1595.1 1785.7,1593.5 1787.3,1590.4 1788.9,1587.2 1790.5,1584.0 1792.1,1579.2 1793.7,1577.6 1795.3,1579.2 1796.9,1582.4 1798.5,1587.2 1800.1,1588.8 1801.7,1585.6 1803.3,1584.0 1804.9,1587.2 1806.5,1590.4 1808.0,1595.1 1809.6,1598.3 1811.2,1596.7 1812.8,1595.1 1814.4,1599.9 1816.0,1606.3 1817.6,1611.1 1819.2,1614.3 1820.8,1614.3 1822.4,1614.3 1824.0,1615.9 1825.6,1617.5 1827.2,1619.0 1828.8,1622.2 1830.4,1623.8 1832.0,1625.4 1833.5,1627.0 1835.1,1630.2 1836.7,1633.4 1838.3,1635.0 1839.9,1635.0 1841.5,1625.4 1843.1,1614.3 1844.7,1611.1 1846.3,1614.3 1847.9,1615.9 1849.5,1612.7 1851.1,1607.9 1852.7,1604.7 1854.3,1606.3 1855.9,1603.1 1857.5,1601.5 1859.0,1599.9 1860.6,1601.5 1862.2,1606.3 1863.8,1609.5 1865.4,1612.7 1867.0,1614.3 1868.6,1614.3 1870.2,1609.5 1871.8,1603.1 1873.4,1599.9 1875.0,1599.9 1876.6,1601.5 1878.2,1604.7 1879.8,1607.9 1881.4,1609.5 1883.0,1611.1 1884.5,1614.3 1886.2,1614.3 1887.7,1614.3 1889.3,1615.9 1890.9,1619.0 1892.9,1623.8 1894.4,1626.2 1896.0,1627.8 1897.6,1628.6 1899.2,1630.2 1900.8,1631.8 1902.3,1635.0 1903.9,1638.2 1905.5,1636.6 1907.1,1630.2 1908.7,1627.8 1910.3,1628.6 1911.9,1627.8 1913.5,1628.6 1915.1,1638.2 1916.7,1639.0 1918.3,1636.6 1919.9,1635.0 1921.5,1633.4 1923.0,1635.0 1924.7,1641.3 1926.2,1639.8 1927.8,1631.8 1929.4,1622.2 1931.0,1620.6 1932.6,1623.8 1934.2,1622.2 1935.8,1620.6 1937.4,1625.4 1939.0,1627.0 1940.6,1628.6 1942.2,1630.2 1943.8,1631.0 1945.4,1630.2 1947.0,1628.6 1948.5,1626.2 1950.1,1627.0 1951.7,1631.8 1953.3,1638.2 1954.9,1639.8 1956.5,1638.2 1958.1,1631.8 1959.7,1623.8 1961.3,1622.2 1962.9,1625.4 1964.5,1623.8 1966.1,1623.0 1967.7,1623.8 1969.3,1625.4 1970.9,1631.8 1972.5,1639.8 1974.0,1635.0 1975.6,1628.6 1977.2,1623.8 1978.8,1630.2 1980.4,1638.2 1982.0,1643.0 1983.6,1633.4 1985.2,1627.0 1986.8,1628.6 1988.4,1636.6 1990.0,1641.3 1991.6,1633.4 1993.2,1628.6 1994.8,1625.4 1996.3,1631.8 1997.9,1635.0 1999.5,1631.8 2001.1,1623.8 2002.7,1615.9 2004.3,1612.7 2005.9,1614.3 2007.5,1628.6 2009.1,1639.8 2010.7,1646.1 2012.3,1633.4 2013.9,1628.6 2015.5,1629.4 2017.1,1630.2 2018.7,1633.4 2020.2,1627.0 2021.8,1622.2 2023.4,1620.6 2025.0,1625.4 2026.6,1633.4 2028.2,1638.2 2029.8,1639.8 2031.4,1639.8 2033.0,1638.2 2034.6,1639.8 2036.2,1636.6 2037.8,1630.2 2039.4,1627.0 2041.0,1625.4 2042.6,1631.8 2044.2,1636.6 2045.7,1638.2 2047.3,1635.0 2048.9,1636.6 2050.5,1641.3 2052.1,1644.5 2053.7,1641.3 2055.3,1643.0 2056.9,1643.0 2058.5,1633.4 2060.1,1628.6 2061.7,1627.0 2063.3,1627.8 2064.9,1628.6 2066.5,1635.0 2068.1,1641.3 2069.6,1638.2 2071.2,1627.0 2072.8,1623.8 2074.4,1625.4 2076.0,1623.8 2077.6,1625.4 2079.2,1630.2 2080.8,1635.0 2082.4,1625.4 2084.0,1625.4 2085.6,1627.0 2087.2,1631.8 2088.8,1631.8 2090.4,1623.8 2091.9,1628.6 2093.5,1623.8 2095.1,1631.8 2096.7,1639.8 2097.5,1617.5 2099.1,1620.6" fill="none" stroke="#f00" stroke-width="3" stroke-linejoin="round" stroke-linecap="butt"/><polyline clip-path="url(#cRB)" points="1192.4,1646.8 1198.7,1645.9 1208.0,1647.8 1217.4,1647.8 1223.7,1645.3 1226.8,1642.2 1229.9,1639.0 1233.1,1629.6 1235.6,1623.4 1237.8,1629.6 1240.3,1626.5 1242.5,1620.2 1245.0,1614.0 1247.2,1607.7 1249.3,1610.8 1251.8,1598.3 1254.3,1588.9 1256.5,1585.8 1258.7,1595.2 1260.6,1560.8 1262.8,1545.1 1265.0,1557.6 1267.5,1554.5 1270.0,1542.0 1272.2,1532.6 1274.4,1523.2 1276.2,1520.1 1278.4,1532.6 1280.6,1538.9 1282.5,1545.1 1284.7,1535.7 1286.9,1542.0 1288.8,1554.5 1291.0,1554.5 1292.5,1573.3 1294.1,1560.8 1295.7,1554.5 1297.2,1567.0 1298.8,1570.2 1300.3,1563.9 1301.9,1557.6 1303.5,1567.0 1305.7,1560.8 1307.5,1548.2 1309.4,1560.8 1311.3,1579.5 1313.2,1576.4 1315.0,1592.1 1316.9,1570.2 1318.8,1554.5 1320.7,1548.2 1322.6,1532.6 1324.4,1529.5 1326.3,1542.0 1328.2,1551.4 1330.1,1538.9 1331.9,1542.0 1333.8,1554.5 1335.7,1542.0 1337.6,1538.9 1339.5,1554.5 1341.3,1560.8 1343.2,1563.9 1345.1,1557.6 1347.0,1567.0 1348.8,1570.2 1350.7,1548.2 1352.6,1563.9 1354.5,1573.3 1356.3,1557.6 1358.2,1567.0 1360.1,1570.2 1362.0,1554.5 1363.9,1560.8 1365.7,1570.2 1367.6,1554.5 1369.5,1560.8 1371.4,1554.5 1373.2,1560.8 1375.1,1557.6 1377.0,1554.5 1378.9,1560.8 1380.8,1548.2 1383.3,1551.4 1385.1,1548.2 1387.0,1554.5 1388.9,1557.6 1390.8,1573.3 1392.7,1582.7 1394.5,1570.2 1396.4,1579.5 1398.3,1592.1 1400.2,1585.8 1402.0,1598.3 1403.9,1592.1 1405.8,1585.8 1407.7,1595.2 1409.5,1598.3 1411.4,1585.8 1413.3,1570.2 1415.2,1551.4 1417.0,1567.0 1418.9,1598.3 1420.8,1604.6 1423.0,1607.7 1423.0,1612.9 1424.2,1610.5 1425.7,1617.7 1427.6,1615.3 1429.5,1608.1 1430.9,1591.4 1432.3,1605.7 1433.8,1610.5 1435.2,1603.3 1437.1,1605.7 1439.0,1598.6 1440.5,1589.0 1441.9,1598.6 1443.3,1581.8 1444.8,1598.6 1446.7,1598.6 1448.1,1593.8 1449.5,1586.6 1451.5,1603.3 1453.4,1605.7 1455.3,1601.0 1457.2,1593.8 1459.1,1589.0 1460.5,1579.4 1462.5,1565.1 1463.9,1569.9 1465.3,1584.2 1467.2,1591.4 1469.2,1584.2 1471.1,1581.8 1473.0,1579.4 1474.4,1584.2 1475.8,1577.0 1477.3,1581.8 1479.2,1577.0 1481.1,1569.9 1483.0,1572.3 1484.9,1579.4 1486.8,1581.8 1488.8,1589.0 1490.7,1601.0 1492.6,1612.9 1494.5,1612.9 1496.4,1605.7 1498.3,1598.6 1500.2,1589.0 1502.1,1581.8 1504.0,1586.6 1506.0,1586.6 1507.9,1598.6 1509.8,1612.9 1511.7,1610.5 1513.6,1598.6 1515.5,1584.2 1517.4,1574.7 1518.9,1572.3 1520.8,1579.4 1522.7,1591.4 1524.6,1584.2 1526.5,1589.0 1528.4,1598.6 1530.3,1605.7 1532.2,1612.9 1534.2,1617.7 1536.1,1615.3 1538.0,1608.1 1539.9,1603.3 1541.8,1601.0 1543.7,1596.2 1545.6,1584.2 1547.5,1574.7 1549.5,1569.9 1551.4,1565.1 1553.3,1574.7 1555.2,1589.0 1557.1,1601.0 1559.0,1605.7 1561.4,1603.3 1563.3,1591.4 1565.2,1589.0 1567.1,1593.8 1569.0,1591.4 1571.0,1586.6 1572.9,1589.0 1574.8,1584.2 1576.7,1586.6 1578.6,1581.8 1580.5,1579.4 1582.4,1584.2 1584.3,1584.2 1586.3,1589.0 1588.2,1593.8 1590.1,1605.7 1592.0,1612.9 1593.9,1612.9 1595.8,1627.2 1597.7,1622.5 1599.6,1612.9 1601.6,1605.7 1603.5,1612.9 1605.4,1617.7 1607.3,1615.3 1609.2,1610.5 1611.1,1605.7 1613.0,1601.0 1614.9,1598.6 1616.8,1596.2 1618.8,1601.0 1620.7,1608.1 1622.6,1612.9 1624.5,1612.9 1626.4,1610.5 1628.3,1605.7 1630.2,1609.3 1632.2,1603.3 1634.1,1593.8 1636.0,1584.2 1637.9,1577.0 1639.8,1574.7 1641.7,1572.3 1643.6,1574.7 1645.5,1584.2 1647.5,1598.6 1649.4,1610.5 1651.3,1612.9 1653.2,1605.7 1655.1,1603.3 1657.0,1605.7 1658.9,1604.5 1660.8,1603.3 1662.7,1604.5 1664.7,1605.7 1666.6,1609.3 1667.9,1611.1 1669.4,1606.3 1671.0,1599.9 1672.6,1593.5 1674.2,1587.2 1675.8,1584.0 1677.3,1582.4 1678.6,1582.4 1679.9,1587.2 1681.2,1593.5 1682.5,1598.3 1683.7,1600.7 1685.3,1602.3 1686.9,1601.5 1688.5,1596.7 1690.1,1590.4 1691.4,1585.6 1692.7,1585.6 1693.9,1587.2 1695.2,1588.8 1696.5,1590.4 1698.1,1593.5 1699.7,1593.5 1701.2,1587.2 1702.8,1582.4 1704.4,1576.0 1706.0,1571.2 1707.6,1569.6 1709.2,1568.0 1710.8,1567.2 1712.4,1568.0 1714.0,1571.2 1715.6,1576.0 1717.2,1580.8 1718.8,1585.6 1720.4,1588.8 1722.0,1592.0 1723.6,1595.1 1725.2,1595.9 1726.8,1595.1 1728.3,1590.4 1729.9,1587.2 1731.5,1584.0 1733.1,1580.8 1734.7,1578.4 1736.3,1578.4 1737.9,1580.0 1739.5,1583.2 1741.1,1585.6 1742.7,1588.0 1744.3,1590.4 1745.9,1593.5 1747.5,1596.7 1749.1,1599.9 1750.7,1603.1 1752.3,1604.7 1753.8,1603.9 1755.5,1602.3 1757.0,1599.9 1758.6,1595.1 1760.2,1590.4 1761.8,1585.6 1763.4,1582.4 1765.0,1579.2 1766.6,1577.6 1768.2,1577.6 1769.8,1578.4 1771.4,1580.0 1773.0,1581.6 1774.6,1583.2 1776.2,1585.6 1777.8,1588.8 1779.3,1592.0 1781.0,1594.3 1782.5,1595.9 1784.1,1596.7 1785.7,1595.1 1787.3,1592.0 1788.9,1590.4 1790.5,1588.8 1792.1,1587.2 1793.7,1585.6 1795.3,1584.0 1796.9,1588.8 1798.5,1592.0 1800.1,1595.1 1801.7,1593.5 1803.3,1592.0 1804.9,1593.5 1806.5,1596.7 1808.0,1599.9 1809.6,1604.7 1811.2,1601.5 1812.8,1598.3 1814.4,1601.5 1816.0,1606.3 1817.6,1611.1 1819.2,1614.3 1820.8,1615.1 1822.4,1615.9 1824.0,1617.5 1825.6,1619.0 1827.2,1620.6 1828.8,1623.0 1830.4,1624.6 1832.0,1626.2 1833.5,1627.8 1835.1,1630.2 1836.7,1633.4 1838.3,1635.8 1839.9,1636.6 1841.5,1627.0 1843.1,1615.9 1844.7,1612.7 1846.3,1615.9 1847.9,1617.5 1849.5,1614.3 1851.1,1609.5 1852.7,1606.3 1854.3,1607.9 1855.9,1605.5 1857.5,1603.9 1859.0,1602.3 1860.6,1603.9 1862.2,1607.9 1863.8,1611.1 1865.4,1614.3 1867.0,1615.9 1868.6,1615.9 1870.2,1611.1 1871.8,1604.7 1873.4,1601.5 1875.0,1601.5 1876.6,1603.1 1878.2,1606.3 1879.8,1609.5 1881.4,1611.9 1883.0,1613.5 1884.5,1615.9 1886.2,1615.9 1887.7,1615.9 1889.3,1617.5 1890.9,1620.6 1892.9,1625.4 1894.4,1627.8 1896.0,1629.4 1897.6,1630.2 1899.2,1631.8 1900.8,1633.4 1902.3,1636.6 1903.9,1639.8 1905.5,1638.2 1907.1,1631.8 1908.7,1629.4 1910.3,1630.2 1911.9,1629.4 1913.5,1630.2 1915.1,1639.8 1916.7,1640.6 1918.3,1638.2 1919.9,1636.6 1921.5,1635.0 1923.0,1636.6 1924.7,1643.0 1926.2,1641.3 1927.8,1633.4 1929.4,1623.8 1931.0,1622.2 1932.6,1625.4 1934.2,1623.8 1935.8,1622.2 1937.4,1627.0 1939.0,1628.6 1940.6,1630.2 1942.2,1631.8 1943.8,1632.6 1945.4,1631.8 1947.0,1630.2 1948.5,1627.8 1950.1,1628.6 1951.7,1633.4 1953.3,1639.8 1954.9,1641.3 1956.5,1639.8 1958.1,1633.4 1959.7,1625.4 1961.3,1623.8 1962.9,1627.0 1964.5,1625.4 1966.1,1624.6 1967.7,1625.4 1969.3,1627.0 1970.9,1633.4 1972.5,1641.3 1974.0,1636.6 1975.6,1630.2 1977.2,1625.4 1978.8,1631.8 1980.4,1639.8 1982.0,1644.5 1983.6,1635.0 1985.2,1628.6 1986.8,1630.2 1988.4,1638.2 1990.0,1643.0 1991.6,1635.0 1993.2,1630.2 1994.8,1627.0 1996.3,1633.4 1997.9,1636.6 1999.5,1633.4 2001.1,1625.4 2002.7,1617.5 2004.3,1614.3 2005.9,1615.9 2007.5,1630.2 2009.1,1641.3 2010.7,1647.7 2012.3,1635.0 2013.9,1630.2 2015.5,1631.0 2017.1,1631.8 2018.7,1635.0 2020.2,1628.6 2021.8,1623.8 2023.4,1622.2 2025.0,1627.0 2026.6,1635.0 2028.2,1639.8 2029.8,1641.3 2031.4,1641.3 2033.0,1639.8 2034.6,1641.3 2036.2,1638.2 2037.8,1631.8 2039.4,1628.6 2041.0,1627.0 2042.6,1633.4 2044.2,1638.2 2045.7,1639.8 2047.3,1636.6 2048.9,1638.2 2050.5,1643.0 2052.1,1646.1 2053.7,1643.0 2055.3,1644.5 2056.9,1644.5 2058.5,1635.0 2060.1,1630.2 2061.7,1628.6 2063.3,1629.4 2064.9,1630.2 2066.5,1636.6 2068.1,1643.0 2069.6,1639.8 2071.2,1628.6 2072.8,1625.4 2074.4,1627.0 2076.0,1625.4 2077.6,1627.0 2079.2,1631.8 2080.8,1636.6 2082.4,1627.0 2084.0,1627.0 2085.6,1628.6 2087.2,1633.4 2088.8,1633.4 2090.4,1625.4 2091.9,1630.2 2093.5,1625.4 2095.1,1633.4 2095.1,1630.2 2096.7,1633.4 2098.0,1627.0 2099.1,1628.6" fill="none" stroke="#008000" stroke-width="3" stroke-linejoin="round" stroke-linecap="butt"/><path d="M157.60 685.00v-8.0M157.60 14.30v8.0" stroke="#000" stroke-width="2.4"/><path d="M206.05 685.00v-8.0M206.05 14.30v8.0" stroke="#000" stroke-width="2.4"/><path d="M254.50 685.00v-8.0M254.50 14.30v8.0" stroke="#000" stroke-width="2.4"/><path d="M302.95 685.00v-8.0M302.95 14.30v8.0" stroke="#000" stroke-width="2.4"/><path d="M351.40 685.00v-14.2M351.40 14.30v14.2" stroke="#000" stroke-width="3.0"/><path d="M399.85 685.00v-8.0M399.85 14.30v8.0" stroke="#000" stroke-width="2.4"/><path d="M448.30 685.00v-8.0M448.30 14.30v8.0" stroke="#000" stroke-width="2.4"/><path d="M496.75 685.00v-8.0M496.75 14.30v8.0" stroke="#000" stroke-width="2.4"/><path d="M545.20 685.00v-8.0M545.20 14.30v8.0" stroke="#000" stroke-width="2.4"/><path d="M593.65 685.00v-14.2M593.65 14.30v14.2" stroke="#000" stroke-width="3.0"/><path d="M642.10 685.00v-8.0M642.10 14.30v8.0" stroke="#000" stroke-width="2.4"/><path d="M690.55 685.00v-8.0M690.55 14.30v8.0" stroke="#000" stroke-width="2.4"/><path d="M739.00 685.00v-8.0M739.00 14.30v8.0" stroke="#000" stroke-width="2.4"/><path d="M787.45 685.00v-8.0M787.45 14.30v8.0" stroke="#000" stroke-width="2.4"/><path d="M835.90 685.00v-14.2M835.90 14.30v14.2" stroke="#000" stroke-width="3.0"/><path d="M884.35 685.00v-8.0M884.35 14.30v8.0" stroke="#000" stroke-width="2.4"/><path d="M932.80 685.00v-8.0M932.80 14.30v8.0" stroke="#000" stroke-width="2.4"/><path d="M981.25 685.00v-8.0M981.25 14.30v8.0" stroke="#000" stroke-width="2.4"/><path d="M109.15 658.17h8.0M1029.70 658.17h-8.0" stroke="#000" stroke-width="2.4"/><path d="M109.15 631.34h8.0M1029.70 631.34h-8.0" stroke="#000" stroke-width="2.4"/><path d="M109.15 604.52h8.0M1029.70 604.52h-8.0" stroke="#000" stroke-width="2.4"/><path d="M109.15 577.69h8.0M1029.70 577.69h-8.0" stroke="#000" stroke-width="2.4"/><path d="M109.15 550.86h14.2M1029.70 550.86h-14.2" stroke="#000" stroke-width="3.0"/><path d="M109.15 524.03h8.0M1029.70 524.03h-8.0" stroke="#000" stroke-width="2.4"/><path d="M109.15 497.20h8.0M1029.70 497.20h-8.0" stroke="#000" stroke-width="2.4"/><path d="M109.15 470.38h8.0M1029.70 470.38h-8.0" stroke="#000" stroke-width="2.4"/><path d="M109.15 443.55h8.0M1029.70 443.55h-8.0" stroke="#000" stroke-width="2.4"/><path d="M109.15 416.72h14.2M1029.70 416.72h-14.2" stroke="#000" stroke-width="3.0"/><path d="M109.15 389.89h8.0M1029.70 389.89h-8.0" stroke="#000" stroke-width="2.4"/><path d="M109.15 363.06h8.0M1029.70 363.06h-8.0" stroke="#000" stroke-width="2.4"/><path d="M109.15 336.24h8.0M1029.70 336.24h-8.0" stroke="#000" stroke-width="2.4"/><path d="M109.15 309.41h8.0M1029.70 309.41h-8.0" stroke="#000" stroke-width="2.4"/><path d="M109.15 282.58h14.2M1029.70 282.58h-14.2" stroke="#000" stroke-width="3.0"/><path d="M109.15 255.75h8.0M1029.70 255.75h-8.0" stroke="#000" stroke-width="2.4"/><path d="M109.15 228.92h8.0M1029.70 228.92h-8.0" stroke="#000" stroke-width="2.4"/><path d="M109.15 202.10h8.0M1029.70 202.10h-8.0" stroke="#000" stroke-width="2.4"/><path d="M109.15 175.27h8.0M1029.70 175.27h-8.0" stroke="#000" stroke-width="2.4"/><path d="M109.15 148.44h14.2M1029.70 148.44h-14.2" stroke="#000" stroke-width="3.0"/><path d="M109.15 121.61h8.0M1029.70 121.61h-8.0" stroke="#000" stroke-width="2.4"/><path d="M109.15 94.78h8.0M1029.70 94.78h-8.0" stroke="#000" stroke-width="2.4"/><path d="M109.15 67.96h8.0M1029.70 67.96h-8.0" stroke="#000" stroke-width="2.4"/><path d="M109.15 41.13h8.0M1029.70 41.13h-8.0" stroke="#000" stroke-width="2.4"/><rect x="109.15" y="14.30" width="920.55" height="670.70" fill="none" stroke="#000" stroke-width="3.4"/><text x="96.0" y="700.5" text-anchor="end" class="t">0</text><text x="96.0" y="566.4" text-anchor="end" class="t">1</text><text x="96.0" y="432.2" text-anchor="end" class="t">2</text><text x="96.0" y="298.1" text-anchor="end" class="t">3</text><text x="96.0" y="163.9" text-anchor="end" class="t">4</text><text x="96.0" y="29.8" text-anchor="end" class="t">5</text><path d="M1235.65 685.00v-8.0M1235.65 14.30v8.0" stroke="#000" stroke-width="2.4"/><path d="M1284.11 685.00v-8.0M1284.11 14.30v8.0" stroke="#000" stroke-width="2.4"/><path d="M1332.56 685.00v-8.0M1332.56 14.30v8.0" stroke="#000" stroke-width="2.4"/><path d="M1381.01 685.00v-8.0M1381.01 14.30v8.0" stroke="#000" stroke-width="2.4"/><path d="M1429.46 685.00v-14.2M1429.46 14.30v14.2" stroke="#000" stroke-width="3.0"/><path d="M1477.92 685.00v-8.0M1477.92 14.30v8.0" stroke="#000" stroke-width="2.4"/><path d="M1526.37 685.00v-8.0M1526.37 14.30v8.0" stroke="#000" stroke-width="2.4"/><path d="M1574.82 685.00v-8.0M1574.82 14.30v8.0" stroke="#000" stroke-width="2.4"/><path d="M1623.27 685.00v-8.0M1623.27 14.30v8.0" stroke="#000" stroke-width="2.4"/><path d="M1671.73 685.00v-14.2M1671.73 14.30v14.2" stroke="#000" stroke-width="3.0"/><path d="M1720.18 685.00v-8.0M1720.18 14.30v8.0" stroke="#000" stroke-width="2.4"/><path d="M1768.63 685.00v-8.0M1768.63 14.30v8.0" stroke="#000" stroke-width="2.4"/><path d="M1817.08 685.00v-8.0M1817.08 14.30v8.0" stroke="#000" stroke-width="2.4"/><path d="M1865.54 685.00v-8.0M1865.54 14.30v8.0" stroke="#000" stroke-width="2.4"/><path d="M1913.99 685.00v-14.2M1913.99 14.30v14.2" stroke="#000" stroke-width="3.0"/><path d="M1962.44 685.00v-8.0M1962.44 14.30v8.0" stroke="#000" stroke-width="2.4"/><path d="M2010.89 685.00v-8.0M2010.89 14.30v8.0" stroke="#000" stroke-width="2.4"/><path d="M2059.35 685.00v-8.0M2059.35 14.30v8.0" stroke="#000" stroke-width="2.4"/><path d="M1187.20 658.17h8.0M2107.80 658.17h-8.0" stroke="#000" stroke-width="2.4"/><path d="M1187.20 631.34h8.0M2107.80 631.34h-8.0" stroke="#000" stroke-width="2.4"/><path d="M1187.20 604.52h8.0M2107.80 604.52h-8.0" stroke="#000" stroke-width="2.4"/><path d="M1187.20 577.69h8.0M2107.80 577.69h-8.0" stroke="#000" stroke-width="2.4"/><path d="M1187.20 550.86h14.2M2107.80 550.86h-14.2" stroke="#000" stroke-width="3.0"/><path d="M1187.20 524.03h8.0M2107.80 524.03h-8.0" stroke="#000" stroke-width="2.4"/><path d="M1187.20 497.20h8.0M2107.80 497.20h-8.0" stroke="#000" stroke-width="2.4"/><path d="M1187.20 470.38h8.0M2107.80 470.38h-8.0" stroke="#000" stroke-width="2.4"/><path d="M1187.20 443.55h8.0M2107.80 443.55h-8.0" stroke="#000" stroke-width="2.4"/><path d="M1187.20 416.72h14.2M2107.80 416.72h-14.2" stroke="#000" stroke-width="3.0"/><path d="M1187.20 389.89h8.0M2107.80 389.89h-8.0" stroke="#000" stroke-width="2.4"/><path d="M1187.20 363.06h8.0M2107.80 363.06h-8.0" stroke="#000" stroke-width="2.4"/><path d="M1187.20 336.24h8.0M2107.80 336.24h-8.0" stroke="#000" stroke-width="2.4"/><path d="M1187.20 309.41h8.0M2107.80 309.41h-8.0" stroke="#000" stroke-width="2.4"/><path d="M1187.20 282.58h14.2M2107.80 282.58h-14.2" stroke="#000" stroke-width="3.0"/><path d="M1187.20 255.75h8.0M2107.80 255.75h-8.0" stroke="#000" stroke-width="2.4"/><path d="M1187.20 228.92h8.0M2107.80 228.92h-8.0" stroke="#000" stroke-width="2.4"/><path d="M1187.20 202.10h8.0M2107.80 202.10h-8.0" stroke="#000" stroke-width="2.4"/><path d="M1187.20 175.27h8.0M2107.80 175.27h-8.0" stroke="#000" stroke-width="2.4"/><path d="M1187.20 148.44h14.2M2107.80 148.44h-14.2" stroke="#000" stroke-width="3.0"/><path d="M1187.20 121.61h8.0M2107.80 121.61h-8.0" stroke="#000" stroke-width="2.4"/><path d="M1187.20 94.78h8.0M2107.80 94.78h-8.0" stroke="#000" stroke-width="2.4"/><path d="M1187.20 67.96h8.0M2107.80 67.96h-8.0" stroke="#000" stroke-width="2.4"/><path d="M1187.20 41.13h8.0M2107.80 41.13h-8.0" stroke="#000" stroke-width="2.4"/><rect x="1187.20" y="14.30" width="920.60" height="670.70" fill="none" stroke="#000" stroke-width="3.4"/><text x="1174.0" y="700.5" text-anchor="end" class="t">0</text><text x="1174.0" y="566.4" text-anchor="end" class="t">1</text><text x="1174.0" y="432.2" text-anchor="end" class="t">2</text><text x="1174.0" y="298.1" text-anchor="end" class="t">3</text><text x="1174.0" y="163.9" text-anchor="end" class="t">4</text><text x="1174.0" y="29.8" text-anchor="end" class="t">5</text><path d="M157.60 979.80v-8.0M157.60 685.00v8.0" stroke="#000" stroke-width="2.4"/><path d="M206.05 979.80v-8.0M206.05 685.00v8.0" stroke="#000" stroke-width="2.4"/><path d="M254.50 979.80v-8.0M254.50 685.00v8.0" stroke="#000" stroke-width="2.4"/><path d="M302.95 979.80v-8.0M302.95 685.00v8.0" stroke="#000" stroke-width="2.4"/><path d="M351.40 979.80v-14.2M351.40 685.00v14.2" stroke="#000" stroke-width="3.0"/><path d="M399.85 979.80v-8.0M399.85 685.00v8.0" stroke="#000" stroke-width="2.4"/><path d="M448.30 979.80v-8.0M448.30 685.00v8.0" stroke="#000" stroke-width="2.4"/><path d="M496.75 979.80v-8.0M496.75 685.00v8.0" stroke="#000" stroke-width="2.4"/><path d="M545.20 979.80v-8.0M545.20 685.00v8.0" stroke="#000" stroke-width="2.4"/><path d="M593.65 979.80v-14.2M593.65 685.00v14.2" stroke="#000" stroke-width="3.0"/><path d="M642.10 979.80v-8.0M642.10 685.00v8.0" stroke="#000" stroke-width="2.4"/><path d="M690.55 979.80v-8.0M690.55 685.00v8.0" stroke="#000" stroke-width="2.4"/><path d="M739.00 979.80v-8.0M739.00 685.00v8.0" stroke="#000" stroke-width="2.4"/><path d="M787.45 979.80v-8.0M787.45 685.00v8.0" stroke="#000" stroke-width="2.4"/><path d="M835.90 979.80v-14.2M835.90 685.00v14.2" stroke="#000" stroke-width="3.0"/><path d="M884.35 979.80v-8.0M884.35 685.00v8.0" stroke="#000" stroke-width="2.4"/><path d="M932.80 979.80v-8.0M932.80 685.00v8.0" stroke="#000" stroke-width="2.4"/><path d="M981.25 979.80v-8.0M981.25 685.00v8.0" stroke="#000" stroke-width="2.4"/><path d="M109.15 940.23h8.0M1029.70 940.23h-8.0" stroke="#000" stroke-width="2.4"/><path d="M109.15 900.66h8.0M1029.70 900.66h-8.0" stroke="#000" stroke-width="2.4"/><path d="M109.15 861.09h8.0M1029.70 861.09h-8.0" stroke="#000" stroke-width="2.4"/><path d="M109.15 821.52h8.0M1029.70 821.52h-8.0" stroke="#000" stroke-width="2.4"/><path d="M109.15 781.95h14.2M1029.70 781.95h-14.2" stroke="#000" stroke-width="3.0"/><path d="M109.15 742.38h8.0M1029.70 742.38h-8.0" stroke="#000" stroke-width="2.4"/><path d="M109.15 702.81h8.0M1029.70 702.81h-8.0" stroke="#000" stroke-width="2.4"/><rect x="109.15" y="685.00" width="920.55" height="294.80" fill="none" stroke="#000" stroke-width="3.4"/><text x="96.0" y="995.3" text-anchor="end" class="t">0</text><text x="96.0" y="797.4" text-anchor="end" class="t">1</text><path d="M1235.65 979.80v-8.0M1235.65 685.00v8.0" stroke="#000" stroke-width="2.4"/><path d="M1284.11 979.80v-8.0M1284.11 685.00v8.0" stroke="#000" stroke-width="2.4"/><path d="M1332.56 979.80v-8.0M1332.56 685.00v8.0" stroke="#000" stroke-width="2.4"/><path d="M1381.01 979.80v-8.0M1381.01 685.00v8.0" stroke="#000" stroke-width="2.4"/><path d="M1429.46 979.80v-14.2M1429.46 685.00v14.2" stroke="#000" stroke-width="3.0"/><path d="M1477.92 979.80v-8.0M1477.92 685.00v8.0" stroke="#000" stroke-width="2.4"/><path d="M1526.37 979.80v-8.0M1526.37 685.00v8.0" stroke="#000" stroke-width="2.4"/><path d="M1574.82 979.80v-8.0M1574.82 685.00v8.0" stroke="#000" stroke-width="2.4"/><path d="M1623.27 979.80v-8.0M1623.27 685.00v8.0" stroke="#000" stroke-width="2.4"/><path d="M1671.73 979.80v-14.2M1671.73 685.00v14.2" stroke="#000" stroke-width="3.0"/><path d="M1720.18 979.80v-8.0M1720.18 685.00v8.0" stroke="#000" stroke-width="2.4"/><path d="M1768.63 979.80v-8.0M1768.63 685.00v8.0" stroke="#000" stroke-width="2.4"/><path d="M1817.08 979.80v-8.0M1817.08 685.00v8.0" stroke="#000" stroke-width="2.4"/><path d="M1865.54 979.80v-8.0M1865.54 685.00v8.0" stroke="#000" stroke-width="2.4"/><path d="M1913.99 979.80v-14.2M1913.99 685.00v14.2" stroke="#000" stroke-width="3.0"/><path d="M1962.44 979.80v-8.0M1962.44 685.00v8.0" stroke="#000" stroke-width="2.4"/><path d="M2010.89 979.80v-8.0M2010.89 685.00v8.0" stroke="#000" stroke-width="2.4"/><path d="M2059.35 979.80v-8.0M2059.35 685.00v8.0" stroke="#000" stroke-width="2.4"/><path d="M1187.20 940.23h8.0M2107.80 940.23h-8.0" stroke="#000" stroke-width="2.4"/><path d="M1187.20 900.66h8.0M2107.80 900.66h-8.0" stroke="#000" stroke-width="2.4"/><path d="M1187.20 861.09h8.0M2107.80 861.09h-8.0" stroke="#000" stroke-width="2.4"/><path d="M1187.20 821.52h8.0M2107.80 821.52h-8.0" stroke="#000" stroke-width="2.4"/><path d="M1187.20 781.95h14.2M2107.80 781.95h-14.2" stroke="#000" stroke-width="3.0"/><path d="M1187.20 742.38h8.0M2107.80 742.38h-8.0" stroke="#000" stroke-width="2.4"/><path d="M1187.20 702.81h8.0M2107.80 702.81h-8.0" stroke="#000" stroke-width="2.4"/><rect x="1187.20" y="685.00" width="920.60" height="294.80" fill="none" stroke="#000" stroke-width="3.4"/><text x="1174.0" y="995.3" text-anchor="end" class="t">0</text><text x="1174.0" y="797.4" text-anchor="end" class="t">1</text><path d="M157.60 1651.50v-8.0M157.60 979.80v8.0" stroke="#000" stroke-width="2.4"/><path d="M206.05 1651.50v-8.0M206.05 979.80v8.0" stroke="#000" stroke-width="2.4"/><path d="M254.50 1651.50v-8.0M254.50 979.80v8.0" stroke="#000" stroke-width="2.4"/><path d="M302.95 1651.50v-8.0M302.95 979.80v8.0" stroke="#000" stroke-width="2.4"/><path d="M351.40 1651.50v-14.2M351.40 979.80v14.2" stroke="#000" stroke-width="3.0"/><path d="M399.85 1651.50v-8.0M399.85 979.80v8.0" stroke="#000" stroke-width="2.4"/><path d="M448.30 1651.50v-8.0M448.30 979.80v8.0" stroke="#000" stroke-width="2.4"/><path d="M496.75 1651.50v-8.0M496.75 979.80v8.0" stroke="#000" stroke-width="2.4"/><path d="M545.20 1651.50v-8.0M545.20 979.80v8.0" stroke="#000" stroke-width="2.4"/><path d="M593.65 1651.50v-14.2M593.65 979.80v14.2" stroke="#000" stroke-width="3.0"/><path d="M642.10 1651.50v-8.0M642.10 979.80v8.0" stroke="#000" stroke-width="2.4"/><path d="M690.55 1651.50v-8.0M690.55 979.80v8.0" stroke="#000" stroke-width="2.4"/><path d="M739.00 1651.50v-8.0M739.00 979.80v8.0" stroke="#000" stroke-width="2.4"/><path d="M787.45 1651.50v-8.0M787.45 979.80v8.0" stroke="#000" stroke-width="2.4"/><path d="M835.90 1651.50v-14.2M835.90 979.80v14.2" stroke="#000" stroke-width="3.0"/><path d="M884.35 1651.50v-8.0M884.35 979.80v8.0" stroke="#000" stroke-width="2.4"/><path d="M932.80 1651.50v-8.0M932.80 979.80v8.0" stroke="#000" stroke-width="2.4"/><path d="M981.25 1651.50v-8.0M981.25 979.80v8.0" stroke="#000" stroke-width="2.4"/><path d="M109.15 1617.05h8.0M1029.70 1617.05h-8.0" stroke="#000" stroke-width="2.4"/><path d="M109.15 1582.61h8.0M1029.70 1582.61h-8.0" stroke="#000" stroke-width="2.4"/><path d="M109.15 1548.16h8.0M1029.70 1548.16h-8.0" stroke="#000" stroke-width="2.4"/><path d="M109.15 1513.72h8.0M1029.70 1513.72h-8.0" stroke="#000" stroke-width="2.4"/><path d="M109.15 1479.27h14.2M1029.70 1479.27h-14.2" stroke="#000" stroke-width="3.0"/><path d="M109.15 1444.82h8.0M1029.70 1444.82h-8.0" stroke="#000" stroke-width="2.4"/><path d="M109.15 1410.38h8.0M1029.70 1410.38h-8.0" stroke="#000" stroke-width="2.4"/><path d="M109.15 1375.93h8.0M1029.70 1375.93h-8.0" stroke="#000" stroke-width="2.4"/><path d="M109.15 1341.48h8.0M1029.70 1341.48h-8.0" stroke="#000" stroke-width="2.4"/><path d="M109.15 1307.04h14.2M1029.70 1307.04h-14.2" stroke="#000" stroke-width="3.0"/><path d="M109.15 1272.59h8.0M1029.70 1272.59h-8.0" stroke="#000" stroke-width="2.4"/><path d="M109.15 1238.15h8.0M1029.70 1238.15h-8.0" stroke="#000" stroke-width="2.4"/><path d="M109.15 1203.70h8.0M1029.70 1203.70h-8.0" stroke="#000" stroke-width="2.4"/><path d="M109.15 1169.25h8.0M1029.70 1169.25h-8.0" stroke="#000" stroke-width="2.4"/><path d="M109.15 1134.81h14.2M1029.70 1134.81h-14.2" stroke="#000" stroke-width="3.0"/><path d="M109.15 1100.36h8.0M1029.70 1100.36h-8.0" stroke="#000" stroke-width="2.4"/><path d="M109.15 1065.92h8.0M1029.70 1065.92h-8.0" stroke="#000" stroke-width="2.4"/><path d="M109.15 1031.47h8.0M1029.70 1031.47h-8.0" stroke="#000" stroke-width="2.4"/><path d="M109.15 997.02h8.0M1029.70 997.02h-8.0" stroke="#000" stroke-width="2.4"/><rect x="109.15" y="979.80" width="920.55" height="671.70" fill="none" stroke="#000" stroke-width="3.4"/><text x="96.0" y="1667.0" text-anchor="end" class="t">0</text><text x="96.0" y="1494.8" text-anchor="end" class="t">1</text><text x="96.0" y="1322.5" text-anchor="end" class="t">2</text><text x="96.0" y="1150.3" text-anchor="end" class="t">3</text><text x="109.2" y="1697.5" text-anchor="middle" class="t">0.0</text><text x="351.4" y="1697.5" text-anchor="middle" class="t">0.5</text><text x="593.7" y="1697.5" text-anchor="middle" class="t">1.0</text><text x="835.9" y="1697.5" text-anchor="middle" class="t">1.5</text><path d="M1235.65 1651.50v-8.0M1235.65 979.80v8.0" stroke="#000" stroke-width="2.4"/><path d="M1284.11 1651.50v-8.0M1284.11 979.80v8.0" stroke="#000" stroke-width="2.4"/><path d="M1332.56 1651.50v-8.0M1332.56 979.80v8.0" stroke="#000" stroke-width="2.4"/><path d="M1381.01 1651.50v-8.0M1381.01 979.80v8.0" stroke="#000" stroke-width="2.4"/><path d="M1429.46 1651.50v-14.2M1429.46 979.80v14.2" stroke="#000" stroke-width="3.0"/><path d="M1477.92 1651.50v-8.0M1477.92 979.80v8.0" stroke="#000" stroke-width="2.4"/><path d="M1526.37 1651.50v-8.0M1526.37 979.80v8.0" stroke="#000" stroke-width="2.4"/><path d="M1574.82 1651.50v-8.0M1574.82 979.80v8.0" stroke="#000" stroke-width="2.4"/><path d="M1623.27 1651.50v-8.0M1623.27 979.80v8.0" stroke="#000" stroke-width="2.4"/><path d="M1671.73 1651.50v-14.2M1671.73 979.80v14.2" stroke="#000" stroke-width="3.0"/><path d="M1720.18 1651.50v-8.0M1720.18 979.80v8.0" stroke="#000" stroke-width="2.4"/><path d="M1768.63 1651.50v-8.0M1768.63 979.80v8.0" stroke="#000" stroke-width="2.4"/><path d="M1817.08 1651.50v-8.0M1817.08 979.80v8.0" stroke="#000" stroke-width="2.4"/><path d="M1865.54 1651.50v-8.0M1865.54 979.80v8.0" stroke="#000" stroke-width="2.4"/><path d="M1913.99 1651.50v-14.2M1913.99 979.80v14.2" stroke="#000" stroke-width="3.0"/><path d="M1962.44 1651.50v-8.0M1962.44 979.80v8.0" stroke="#000" stroke-width="2.4"/><path d="M2010.89 1651.50v-8.0M2010.89 979.80v8.0" stroke="#000" stroke-width="2.4"/><path d="M2059.35 1651.50v-8.0M2059.35 979.80v8.0" stroke="#000" stroke-width="2.4"/><path d="M1187.20 1617.05h8.0M2107.80 1617.05h-8.0" stroke="#000" stroke-width="2.4"/><path d="M1187.20 1582.61h8.0M2107.80 1582.61h-8.0" stroke="#000" stroke-width="2.4"/><path d="M1187.20 1548.16h8.0M2107.80 1548.16h-8.0" stroke="#000" stroke-width="2.4"/><path d="M1187.20 1513.72h8.0M2107.80 1513.72h-8.0" stroke="#000" stroke-width="2.4"/><path d="M1187.20 1479.27h14.2M2107.80 1479.27h-14.2" stroke="#000" stroke-width="3.0"/><path d="M1187.20 1444.82h8.0M2107.80 1444.82h-8.0" stroke="#000" stroke-width="2.4"/><path d="M1187.20 1410.38h8.0M2107.80 1410.38h-8.0" stroke="#000" stroke-width="2.4"/><path d="M1187.20 1375.93h8.0M2107.80 1375.93h-8.0" stroke="#000" stroke-width="2.4"/><path d="M1187.20 1341.48h8.0M2107.80 1341.48h-8.0" stroke="#000" stroke-width="2.4"/><path d="M1187.20 1307.04h14.2M2107.80 1307.04h-14.2" stroke="#000" stroke-width="3.0"/><path d="M1187.20 1272.59h8.0M2107.80 1272.59h-8.0" stroke="#000" stroke-width="2.4"/><path d="M1187.20 1238.15h8.0M2107.80 1238.15h-8.0" stroke="#000" stroke-width="2.4"/><path d="M1187.20 1203.70h8.0M2107.80 1203.70h-8.0" stroke="#000" stroke-width="2.4"/><path d="M1187.20 1169.25h8.0M2107.80 1169.25h-8.0" stroke="#000" stroke-width="2.4"/><path d="M1187.20 1134.81h14.2M2107.80 1134.81h-14.2" stroke="#000" stroke-width="3.0"/><path d="M1187.20 1100.36h8.0M2107.80 1100.36h-8.0" stroke="#000" stroke-width="2.4"/><path d="M1187.20 1065.92h8.0M2107.80 1065.92h-8.0" stroke="#000" stroke-width="2.4"/><path d="M1187.20 1031.47h8.0M2107.80 1031.47h-8.0" stroke="#000" stroke-width="2.4"/><path d="M1187.20 997.02h8.0M2107.80 997.02h-8.0" stroke="#000" stroke-width="2.4"/><rect x="1187.20" y="979.80" width="920.60" height="671.70" fill="none" stroke="#000" stroke-width="3.4"/><text x="1174.0" y="1667.0" text-anchor="end" class="t">0</text><text x="1174.0" y="1494.8" text-anchor="end" class="t">1</text><text x="1174.0" y="1322.5" text-anchor="end" class="t">2</text><text x="1174.0" y="1150.3" text-anchor="end" class="t">3</text><text x="1187.2" y="1697.5" text-anchor="middle" class="t">0.0</text><text x="1429.5" y="1697.5" text-anchor="middle" class="t">0.5</text><text x="1671.7" y="1697.5" text-anchor="middle" class="t">1.0</text><text x="1914.0" y="1697.5" text-anchor="middle" class="t">1.5</text><g class="t"><path d="M285.5 72.0h48.1" stroke="#000" stroke-width="3"/><text transform="translate(368.14,88.00) scale(0.9586,1.0000)" font-size="46">400</text><text transform="translate(449.00,88.00) scale(1.0300,1.0000)" font-size="46">km</text><text transform="translate(527.20,91.00) scale(0.6151,1.1550)" font-size="46">[</text><text transform="translate(537.04,88.00) scale(0.9540,1.0000)" font-size="46">4</text><text transform="translate(559.27,88.00) scale(1.0109,1.0000)" font-size="46">°</text><text transform="translate(579.28,91.00) scale(0.6151,1.1550)" font-size="46">]</text><path d="M285.5 742.7h48.1" stroke="#000" stroke-width="3"/><text transform="translate(368.14,758.70) scale(0.9586,1.0000)" font-size="46">400</text><text transform="translate(449.00,758.70) scale(1.0300,1.0000)" font-size="46">km</text><text transform="translate(527.20,761.70) scale(0.6151,1.1550)" font-size="46">[</text><text transform="translate(537.04,758.70) scale(0.9540,1.0000)" font-size="46">4</text><text transform="translate(559.27,758.70) scale(1.0109,1.0000)" font-size="46">°</text><text transform="translate(579.28,761.70) scale(0.6151,1.1550)" font-size="46">]</text><path d="M285.5 1038.3h48.1" stroke="#000" stroke-width="3"/><text transform="translate(368.14,1054.30) scale(0.9586,1.0000)" font-size="46">400</text><text transform="translate(449.00,1054.30) scale(1.0300,1.0000)" font-size="46">km</text><text transform="translate(527.20,1057.30) scale(0.6151,1.1550)" font-size="46">[</text><text transform="translate(537.04,1054.30) scale(0.9540,1.0000)" font-size="46">4</text><text transform="translate(559.27,1054.30) scale(1.0109,1.0000)" font-size="46">°</text><text transform="translate(579.28,1057.30) scale(0.6151,1.1550)" font-size="46">]</text><path d="M285.5 1108.3h48.1" stroke="#f00" stroke-width="3"/><text transform="translate(366.51,1123.70) scale(0.9874,1.0000)" font-size="46">10</text><text transform="translate(412.90,1108.30) scale(1.0673,1.0000)" font-size="32">11</text><text transform="translate(463.21,1123.70) scale(1.0076,1.0000)" font-size="46">g</text><text transform="translate(501.53,1123.70) scale(1.0088,1.0000)" font-size="46">cm</text><text transform="translate(559.84,1110.30) scale(1.4170,1.0000)" font-size="32">−</text><text transform="translate(586.46,1108.30) scale(1.1348,1.0000)" font-size="32">3</text><text transform="translate(624.23,1126.70) scale(0.6346,1.1550)" font-size="46">[</text><text transform="translate(634.18,1123.70) scale(0.9166,1.0000)" font-size="46">4</text><text transform="translate(656.05,1123.70) scale(0.9750,1.0000)" font-size="46">°</text><text transform="translate(676.11,1126.70) scale(0.5956,1.1550)" font-size="46">]</text><path d="M285.5 1177.9h48.1" stroke="#008000" stroke-width="3"/><text transform="translate(366.51,1193.30) scale(0.9874,1.0000)" font-size="46">10</text><text transform="translate(412.92,1177.90) scale(1.0612,1.0000)" font-size="32">12</text><text transform="translate(463.21,1193.30) scale(1.0076,1.0000)" font-size="46">g</text><text transform="translate(501.53,1193.30) scale(1.0088,1.0000)" font-size="46">cm</text><text transform="translate(559.84,1179.90) scale(1.4170,1.0000)" font-size="32">−</text><text transform="translate(586.46,1177.90) scale(1.1348,1.0000)" font-size="32">3</text><text transform="translate(624.23,1196.30) scale(0.6346,1.1550)" font-size="46">[</text><text transform="translate(634.18,1193.30) scale(0.9166,1.0000)" font-size="46">4</text><text transform="translate(656.05,1193.30) scale(0.9750,1.0000)" font-size="46">°</text><text transform="translate(676.11,1196.30) scale(0.5956,1.1550)" font-size="46">]</text><text transform="translate(514.65,1752.60)" font-size="49" font-style="italic">t</text><text transform="translate(532.47,1759.40) scale(1.2192,1.0000)" font-size="32">pb</text><text transform="translate(583.80,1755.60) scale(0.5858,1.1550)" font-size="46">[</text><text transform="translate(592.03,1752.60) scale(1.0451,1.0000)" font-size="46">s</text><text transform="translate(610.06,1755.60) scale(0.6249,1.1550)" font-size="46">]</text><path d="M1363.5 72.0h48.1" stroke="#000" stroke-width="3"/><text transform="translate(1446.19,88.00) scale(0.9586,1.0000)" font-size="46">400</text><text transform="translate(1527.05,88.00) scale(1.0300,1.0000)" font-size="46">km</text><text transform="translate(1605.25,91.00) scale(0.6151,1.1550)" font-size="46">[</text><text transform="translate(1615.09,88.00) scale(0.9540,1.0000)" font-size="46">4</text><text transform="translate(1637.32,88.00) scale(1.0109,1.0000)" font-size="46">°</text><text transform="translate(1657.33,91.00) scale(0.6151,1.1550)" font-size="46">]</text><path d="M1363.5 742.7h48.1" stroke="#000" stroke-width="3"/><text transform="translate(1446.19,758.70) scale(0.9586,1.0000)" font-size="46">400</text><text transform="translate(1527.05,758.70) scale(1.0300,1.0000)" font-size="46">km</text><text transform="translate(1605.25,761.70) scale(0.6151,1.1550)" font-size="46">[</text><text transform="translate(1615.09,758.70) scale(0.9540,1.0000)" font-size="46">4</text><text transform="translate(1637.32,758.70) scale(1.0109,1.0000)" font-size="46">°</text><text transform="translate(1657.33,761.70) scale(0.6151,1.1550)" font-size="46">]</text><path d="M1363.5 1038.3h48.1" stroke="#000" stroke-width="3"/><text transform="translate(1446.19,1054.30) scale(0.9586,1.0000)" font-size="46">400</text><text transform="translate(1527.05,1054.30) scale(1.0300,1.0000)" font-size="46">km</text><text transform="translate(1605.25,1057.30) scale(0.6151,1.1550)" font-size="46">[</text><text transform="translate(1615.09,1054.30) scale(0.9540,1.0000)" font-size="46">4</text><text transform="translate(1637.32,1054.30) scale(1.0109,1.0000)" font-size="46">°</text><text transform="translate(1657.33,1057.30) scale(0.6151,1.1550)" font-size="46">]</text><path d="M1363.5 1108.3h48.1" stroke="#f00" stroke-width="3"/><text transform="translate(1444.56,1123.70) scale(0.9874,1.0000)" font-size="46">10</text><text transform="translate(1490.95,1108.30) scale(1.0673,1.0000)" font-size="32">11</text><text transform="translate(1541.26,1123.70) scale(1.0076,1.0000)" font-size="46">g</text><text transform="translate(1579.58,1123.70) scale(1.0088,1.0000)" font-size="46">cm</text><text transform="translate(1637.89,1110.30) scale(1.4170,1.0000)" font-size="32">−</text><text transform="translate(1664.51,1108.30) scale(1.1348,1.0000)" font-size="32">3</text><text transform="translate(1702.28,1126.70) scale(0.6346,1.1550)" font-size="46">[</text><text transform="translate(1712.23,1123.70) scale(0.9166,1.0000)" font-size="46">4</text><text transform="translate(1734.10,1123.70) scale(0.9750,1.0000)" font-size="46">°</text><text transform="translate(1754.16,1126.70) scale(0.5956,1.1550)" font-size="46">]</text><path d="M1363.5 1177.9h48.1" stroke="#008000" stroke-width="3"/><text transform="translate(1444.56,1193.30) scale(0.9874,1.0000)" font-size="46">10</text><text transform="translate(1490.97,1177.90) scale(1.0612,1.0000)" font-size="32">12</text><text transform="translate(1541.26,1193.30) scale(1.0076,1.0000)" font-size="46">g</text><text transform="translate(1579.58,1193.30) scale(1.0088,1.0000)" font-size="46">cm</text><text transform="translate(1637.89,1179.90) scale(1.4170,1.0000)" font-size="32">−</text><text transform="translate(1664.51,1177.90) scale(1.1348,1.0000)" font-size="32">3</text><text transform="translate(1702.28,1196.30) scale(0.6346,1.1550)" font-size="46">[</text><text transform="translate(1712.23,1193.30) scale(0.9166,1.0000)" font-size="46">4</text><text transform="translate(1734.10,1193.30) scale(0.9750,1.0000)" font-size="46">°</text><text transform="translate(1754.16,1196.30) scale(0.5956,1.1550)" font-size="46">]</text><text transform="translate(1592.70,1752.60)" font-size="49" font-style="italic">t</text><text transform="translate(1610.52,1759.40) scale(1.2192,1.0000)" font-size="32">pb</text><text transform="translate(1661.85,1755.60) scale(0.5858,1.1550)" font-size="46">[</text><text transform="translate(1670.08,1752.60) scale(1.0451,1.0000)" font-size="46">s</text><text transform="translate(1688.11,1755.60) scale(0.6249,1.1550)" font-size="46">]</text><text transform="translate(771.60,94.50) scale(1.1172,1.0300)" font-size="46" font-weight="bold" font-style="italic" stroke="#000" stroke-width="1.1">ℓ</text><text transform="translate(804.55,98.70) scale(1.3735,1.0000)" font-size="46">=</text><text transform="translate(851.80,94.50) scale(1.1958,1.0000)" font-size="44" font-weight="bold">0</text><text transform="translate(771.60,761.50) scale(1.1172,1.0300)" font-size="46" font-weight="bold" font-style="italic" stroke="#000" stroke-width="1.1">ℓ</text><text transform="translate(804.55,765.70) scale(1.3735,1.0000)" font-size="46">=</text><text transform="translate(851.97,761.50) scale(1.1554,1.0000)" font-size="44" font-weight="bold">2</text><text transform="translate(771.60,1061.20) scale(1.1172,1.0300)" font-size="46" font-weight="bold" font-style="italic" stroke="#000" stroke-width="1.1">ℓ</text><text transform="translate(804.55,1065.40) scale(1.3735,1.0000)" font-size="46">=</text><text transform="translate(851.80,1061.20) scale(1.1958,1.0000)" font-size="44" font-weight="bold">0</text><text transform="translate(1849.65,94.50) scale(1.1172,1.0300)" font-size="46" font-weight="bold" font-style="italic" stroke="#000" stroke-width="1.1">ℓ</text><text transform="translate(1882.60,98.70) scale(1.3735,1.0000)" font-size="46">=</text><text transform="translate(1929.74,94.50) scale(1.1667,1.0000)" font-size="44" font-weight="bold">1</text><text transform="translate(1972.60,95.40) scale(0.9141,1.0800)" font-size="46">(</text><text transform="translate(1990.23,100.60) scale(1.1598,1.1200)" font-size="46">×</text><text transform="translate(2022.19,94.50) scale(1.1835,1.0000)" font-size="44" font-weight="bold">3</text><text transform="translate(2049.09,95.40) scale(0.9141,1.0800)" font-size="46">)</text><text transform="translate(1849.65,761.50) scale(1.1172,1.0300)" font-size="46" font-weight="bold" font-style="italic" stroke="#000" stroke-width="1.1">ℓ</text><text transform="translate(1882.60,765.70) scale(1.3735,1.0000)" font-size="46">=</text><text transform="translate(1930.19,761.50) scale(1.1835,1.0000)" font-size="44" font-weight="bold">3</text><text transform="translate(1849.65,1061.20) scale(1.1172,1.0300)" font-size="46" font-weight="bold" font-style="italic" stroke="#000" stroke-width="1.1">ℓ</text><text transform="translate(1882.60,1065.40) scale(1.3735,1.0000)" font-size="46">=</text><text transform="translate(1929.74,1061.20) scale(1.1667,1.0000)" font-size="44" font-weight="bold">1</text><text transform="translate(1972.60,1062.10) scale(0.9141,1.0800)" font-size="46">(</text><text transform="translate(1990.23,1067.30) scale(1.1598,1.1200)" font-size="46">×</text><text transform="translate(2022.19,1061.20) scale(1.1835,1.0000)" font-size="44" font-weight="bold">3</text><text transform="translate(2049.09,1062.10) scale(0.9141,1.0800)" font-size="46">)</text><text transform="translate(36.80,473.17) rotate(-90) scale(0.9262,1.0000)" font-size="46" font-style="italic">A</text><text transform="translate(48.10,442.67) rotate(-90) scale(0.9585,1.0000)" font-size="32">0</text><text transform="translate(20.90,442.70) rotate(-90) scale(0.9471,1.0000)" font-size="32">n</text><text transform="translate(39.80,405.50) rotate(-90) scale(0.5858,1.1550)" font-size="46">[</text><text transform="translate(36.80,395.32) rotate(-90) scale(0.9452,1.0000)" font-size="46">10</text><text transform="translate(21.40,352.04) rotate(-90) scale(1.0964,1.0000)" font-size="32">56</text><text transform="translate(36.80,299.53) rotate(-90) scale(1.0242,1.0000)" font-size="46">s</text><text transform="translate(23.40,279.79) rotate(-90) scale(1.3767,1.0000)" font-size="32">−</text><text transform="translate(21.40,252.45) rotate(-90) scale(0.9764,1.0000)" font-size="32">1</text><text transform="translate(39.80,234.02) rotate(-90) scale(0.6737,1.1550)" font-size="46">]</text><text transform="translate(36.80,957.02) rotate(-90) scale(0.9262,1.0000)" font-size="46" font-style="italic">A</text><text transform="translate(48.10,926.78) rotate(-90) scale(1.0134,1.0000)" font-size="32">2</text><text transform="translate(20.90,926.55) rotate(-90) scale(0.9471,1.0000)" font-size="32">n</text><text transform="translate(39.80,889.35) rotate(-90) scale(0.5858,1.1550)" font-size="46">[</text><text transform="translate(36.80,879.17) rotate(-90) scale(0.9452,1.0000)" font-size="46">10</text><text transform="translate(21.40,835.89) rotate(-90) scale(1.0964,1.0000)" font-size="32">56</text><text transform="translate(36.80,783.38) rotate(-90) scale(1.0242,1.0000)" font-size="46">s</text><text transform="translate(23.40,763.64) rotate(-90) scale(1.3767,1.0000)" font-size="32">−</text><text transform="translate(21.40,736.30) rotate(-90) scale(0.9764,1.0000)" font-size="32">1</text><text transform="translate(39.80,717.87) rotate(-90) scale(0.6737,1.1550)" font-size="46">]</text><text transform="translate(36.80,1477.32) rotate(-90) scale(0.9262,1.0000)" font-size="46" font-style="italic">A</text><text transform="translate(48.10,1446.82) rotate(-90) scale(0.9585,1.0000)" font-size="32">0</text><text transform="translate(20.90,1447.63) rotate(-90) scale(1.1821,1.0000)" font-size="32">e</text><text transform="translate(39.80,1409.65) rotate(-90) scale(0.5858,1.1550)" font-size="46">[</text><text transform="translate(36.80,1399.47) rotate(-90) scale(0.9452,1.0000)" font-size="46">10</text><text transform="translate(21.40,1356.21) rotate(-90) scale(1.1076,1.0000)" font-size="32">53</text><text transform="translate(36.80,1304.55) rotate(-90) scale(1.0025,1.0000)" font-size="46">erg</text><text transform="translate(36.80,1229.93) rotate(-90) scale(0.9963,1.0000)" font-size="46">s</text><text transform="translate(23.40,1210.59) rotate(-90) scale(1.4036,1.0000)" font-size="32">−</text><text transform="translate(21.40,1184.27) rotate(-90) scale(1.0031,1.0000)" font-size="32">1</text><text transform="translate(39.80,1165.58) rotate(-90) scale(0.8592,1.1550)" font-size="46">]</text><text transform="translate(1114.85,516.70) rotate(-90) scale(0.9788,1.0000)" font-size="46">3</text><text transform="translate(1120.90,481.97) rotate(-90) scale(1.1598,1.1660)" font-size="46">×</text><text transform="translate(1114.85,435.12) rotate(-90) scale(0.9262,1.0000)" font-size="46" font-style="italic">A</text><text transform="translate(1126.15,406.70) rotate(-90) scale(1.1540,1.0000)" font-size="32">1</text><text transform="translate(1098.95,404.65) rotate(-90) scale(0.9471,1.0000)" font-size="32">n</text><text transform="translate(1117.85,367.45) rotate(-90) scale(0.5858,1.1550)" font-size="46">[</text><text transform="translate(1114.85,357.27) rotate(-90) scale(0.9452,1.0000)" font-size="46">10</text><text transform="translate(1099.45,313.99) rotate(-90) scale(1.0964,1.0000)" font-size="32">56</text><text transform="translate(1114.85,261.48) rotate(-90) scale(1.0242,1.0000)" font-size="46">s</text><text transform="translate(1101.45,241.74) rotate(-90) scale(1.3767,1.0000)" font-size="32">−</text><text transform="translate(1099.45,214.40) rotate(-90) scale(0.9764,1.0000)" font-size="32">1</text><text transform="translate(1117.85,195.97) rotate(-90) scale(0.6737,1.1550)" font-size="46">]</text><text transform="translate(1114.85,957.02) rotate(-90) scale(0.9262,1.0000)" font-size="46" font-style="italic">A</text><text transform="translate(1126.15,926.86) rotate(-90) scale(0.9835,1.0000)" font-size="32">3</text><text transform="translate(1098.95,926.55) rotate(-90) scale(0.9471,1.0000)" font-size="32">n</text><text transform="translate(1117.85,889.35) rotate(-90) scale(0.5858,1.1550)" font-size="46">[</text><text transform="translate(1114.85,879.17) rotate(-90) scale(0.9452,1.0000)" font-size="46">10</text><text transform="translate(1099.45,835.89) rotate(-90) scale(1.0964,1.0000)" font-size="32">56</text><text transform="translate(1114.85,783.38) rotate(-90) scale(1.0242,1.0000)" font-size="46">s</text><text transform="translate(1101.45,763.64) rotate(-90) scale(1.3767,1.0000)" font-size="32">−</text><text transform="translate(1099.45,736.30) rotate(-90) scale(0.9764,1.0000)" font-size="32">1</text><text transform="translate(1117.85,717.87) rotate(-90) scale(0.6737,1.1550)" font-size="46">]</text><text transform="translate(1114.85,1519.55) rotate(-90) scale(0.9788,1.0000)" font-size="46">3</text><text transform="translate(1120.90,1484.82) rotate(-90) scale(1.1598,1.1660)" font-size="46">×</text><text transform="translate(1114.85,1437.97) rotate(-90) scale(0.9262,1.0000)" font-size="46" font-style="italic">A</text><text transform="translate(1126.15,1409.55) rotate(-90) scale(1.1540,1.0000)" font-size="32">1</text><text transform="translate(1098.95,1408.28) rotate(-90) scale(1.1821,1.0000)" font-size="32">e</text><text transform="translate(1117.85,1370.30) rotate(-90) scale(0.5858,1.1550)" font-size="46">[</text><text transform="translate(1114.85,1360.12) rotate(-90) scale(0.9452,1.0000)" font-size="46">10</text><text transform="translate(1099.45,1316.90) rotate(-90) scale(1.1278,1.0000)" font-size="32">52</text><text transform="translate(1114.85,1265.20) rotate(-90) scale(1.0025,1.0000)" font-size="46">erg</text><text transform="translate(1114.85,1190.58) rotate(-90) scale(0.9963,1.0000)" font-size="46">s</text><text transform="translate(1101.45,1171.24) rotate(-90) scale(1.4036,1.0000)" font-size="32">−</text><text transform="translate(1099.45,1144.92) rotate(-90) scale(1.0031,1.0000)" font-size="32">1</text><text transform="translate(1117.85,1126.23) rotate(-90) scale(0.8592,1.1550)" font-size="46">]</text></g></svg>
</body></html>
